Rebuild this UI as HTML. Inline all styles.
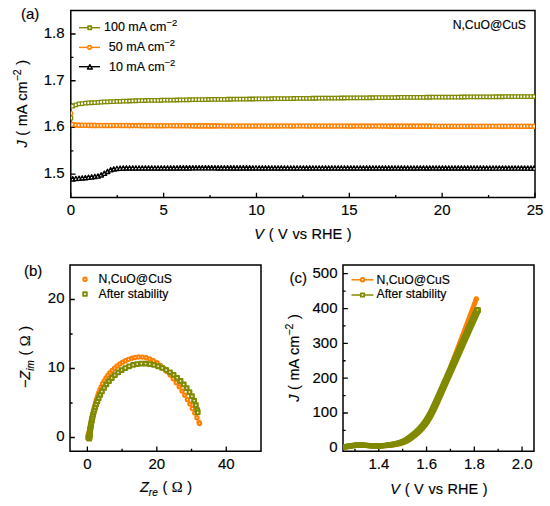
<!DOCTYPE html>
<html><head><meta charset="utf-8"><style>
html,body{margin:0;padding:0;background:#fff;width:550px;height:506px;overflow:hidden}
svg{display:block}
text{font-family:"Liberation Sans",sans-serif;fill:#000;stroke:#000;stroke-width:0.15px}
</style></head><body>
<svg width="550" height="506" viewBox="0 0 550 506">
<rect width="550" height="506" fill="#fff"/>
<clipPath id="ca"><rect x="70.8" y="10.6" width="464.2" height="187.0"/></clipPath>
<clipPath id="cb"><rect x="70" y="265" width="191" height="186.3"/></clipPath>
<clipPath id="cc"><rect x="343" y="265" width="191" height="186.3"/></clipPath>
<path d="M70.8 10.6H535.0V197.6H70.8Z" fill="none" stroke="#000" stroke-width="1.5"/>
<path d="M70.8 197.6v-4.8M163.64 197.6v-4.8M256.48 197.6v-4.8M349.32 197.6v-4.8M442.16 197.6v-4.8M535 197.6v-4.8M117.22 197.6v-2.6M210.06 197.6v-2.6M302.9 197.6v-2.6M395.74 197.6v-2.6M488.58 197.6v-2.6M70.8 174.2h4.8M70.8 127.47h4.8M70.8 80.74h4.8M70.8 34.01h4.8M70.8 150.83h2.6M70.8 104.11h2.6M70.8 57.37h2.6" stroke="#000" stroke-width="1.3" fill="none"/>
<g clip-path="url(#ca)"><rect x="69" y="116.2" width="3.6" height="3.6" fill="#fff" stroke="#808a00" stroke-width="1.3" stroke-linejoin="round"/><circle cx="70.8" cy="113.3" r="1.9" fill="#fff" stroke="#ff8000" stroke-width="1.4" stroke-linejoin="round"/><polyline points="72.7,106.2 75.86,104.82 79.02,103.9 82.18,103.55 85.34,103.16 88.5,102.93 91.66,102.73 94.82,102.53 97.98,102.34 101.14,102.14 104.3,101.95 107.46,101.81 110.62,101.69 113.78,101.58 116.94,101.46 120.1,101.34 123.26,101.22 126.42,101.11 129.58,100.99 132.74,100.87 135.9,100.75 139.06,100.64 142.22,100.56 145.38,100.51 148.54,100.46 151.7,100.41 154.86,100.35 158.02,100.3 161.18,100.25 164.34,100.19 167.5,100.14 170.66,100.09 173.82,100.04 176.98,99.98 180.14,99.93 183.3,99.88 186.46,99.83 189.62,99.77 192.78,99.72 195.94,99.67 199.1,99.61 202.26,99.57 205.42,99.54 208.58,99.5 211.74,99.46 214.9,99.42 218.06,99.39 221.22,99.35 224.38,99.31 227.54,99.27 230.7,99.24 233.86,99.2 237.02,99.16 240.18,99.13 243.34,99.09 246.5,99.05 249.66,99.01 252.82,98.98 255.98,98.94 259.14,98.9 262.3,98.86 265.46,98.83 268.62,98.79 271.78,98.75 274.94,98.71 278.1,98.68 281.26,98.64 284.42,98.6 287.58,98.56 290.74,98.53 293.9,98.49 297.06,98.45 300.22,98.42 303.38,98.38 306.54,98.34 309.7,98.3 312.86,98.27 316.02,98.25 319.18,98.22 322.34,98.19 325.5,98.16 328.66,98.13 331.82,98.1 334.98,98.07 338.14,98.04 341.3,98.02 344.46,97.99 347.62,97.96 350.78,97.93 353.94,97.9 357.1,97.87 360.26,97.84 363.42,97.81 366.58,97.79 369.74,97.76 372.9,97.73 376.06,97.7 379.22,97.67 382.38,97.64 385.54,97.61 388.7,97.58 391.86,97.56 395.02,97.53 398.18,97.5 401.34,97.47 404.5,97.44 407.66,97.41 410.82,97.38 413.98,97.35 417.14,97.33 420.3,97.3 423.46,97.28 426.62,97.25 429.78,97.23 432.94,97.21 436.1,97.19 439.26,97.17 442.42,97.14 445.58,97.12 448.74,97.1 451.9,97.08 455.06,97.06 458.22,97.03 461.38,97.01 464.54,96.99 467.7,96.97 470.86,96.95 474.02,96.92 477.18,96.9 480.34,96.88 483.5,96.86 486.66,96.84 489.82,96.81 492.98,96.79 496.14,96.77 499.3,96.75 502.46,96.73 505.62,96.7 508.78,96.68 511.94,96.66 515.1,96.64 518.26,96.62 521.42,96.59 524.58,96.57 527.74,96.55 530.9,96.53 534.06,96.51" fill="none" stroke="#808a00" stroke-width="1"/><rect x="70.95" y="104.45" width="3.5" height="3.5" fill="#fff" stroke="#808a00" stroke-width="1.3" stroke-linejoin="round"/><rect x="74.11" y="103.07" width="3.5" height="3.5" fill="#fff" stroke="#808a00" stroke-width="1.3" stroke-linejoin="round"/><rect x="77.27" y="102.15" width="3.5" height="3.5" fill="#fff" stroke="#808a00" stroke-width="1.3" stroke-linejoin="round"/><rect x="80.43" y="101.8" width="3.5" height="3.5" fill="#fff" stroke="#808a00" stroke-width="1.3" stroke-linejoin="round"/><rect x="83.59" y="101.41" width="3.5" height="3.5" fill="#fff" stroke="#808a00" stroke-width="1.3" stroke-linejoin="round"/><rect x="86.75" y="101.18" width="3.5" height="3.5" fill="#fff" stroke="#808a00" stroke-width="1.3" stroke-linejoin="round"/><rect x="89.91" y="100.98" width="3.5" height="3.5" fill="#fff" stroke="#808a00" stroke-width="1.3" stroke-linejoin="round"/><rect x="93.07" y="100.78" width="3.5" height="3.5" fill="#fff" stroke="#808a00" stroke-width="1.3" stroke-linejoin="round"/><rect x="96.23" y="100.59" width="3.5" height="3.5" fill="#fff" stroke="#808a00" stroke-width="1.3" stroke-linejoin="round"/><rect x="99.39" y="100.39" width="3.5" height="3.5" fill="#fff" stroke="#808a00" stroke-width="1.3" stroke-linejoin="round"/><rect x="102.55" y="100.2" width="3.5" height="3.5" fill="#fff" stroke="#808a00" stroke-width="1.3" stroke-linejoin="round"/><rect x="105.71" y="100.06" width="3.5" height="3.5" fill="#fff" stroke="#808a00" stroke-width="1.3" stroke-linejoin="round"/><rect x="108.87" y="99.94" width="3.5" height="3.5" fill="#fff" stroke="#808a00" stroke-width="1.3" stroke-linejoin="round"/><rect x="112.03" y="99.83" width="3.5" height="3.5" fill="#fff" stroke="#808a00" stroke-width="1.3" stroke-linejoin="round"/><rect x="115.19" y="99.71" width="3.5" height="3.5" fill="#fff" stroke="#808a00" stroke-width="1.3" stroke-linejoin="round"/><rect x="118.35" y="99.59" width="3.5" height="3.5" fill="#fff" stroke="#808a00" stroke-width="1.3" stroke-linejoin="round"/><rect x="121.51" y="99.47" width="3.5" height="3.5" fill="#fff" stroke="#808a00" stroke-width="1.3" stroke-linejoin="round"/><rect x="124.67" y="99.36" width="3.5" height="3.5" fill="#fff" stroke="#808a00" stroke-width="1.3" stroke-linejoin="round"/><rect x="127.83" y="99.24" width="3.5" height="3.5" fill="#fff" stroke="#808a00" stroke-width="1.3" stroke-linejoin="round"/><rect x="130.99" y="99.12" width="3.5" height="3.5" fill="#fff" stroke="#808a00" stroke-width="1.3" stroke-linejoin="round"/><rect x="134.15" y="99" width="3.5" height="3.5" fill="#fff" stroke="#808a00" stroke-width="1.3" stroke-linejoin="round"/><rect x="137.31" y="98.89" width="3.5" height="3.5" fill="#fff" stroke="#808a00" stroke-width="1.3" stroke-linejoin="round"/><rect x="140.47" y="98.81" width="3.5" height="3.5" fill="#fff" stroke="#808a00" stroke-width="1.3" stroke-linejoin="round"/><rect x="143.63" y="98.76" width="3.5" height="3.5" fill="#fff" stroke="#808a00" stroke-width="1.3" stroke-linejoin="round"/><rect x="146.79" y="98.71" width="3.5" height="3.5" fill="#fff" stroke="#808a00" stroke-width="1.3" stroke-linejoin="round"/><rect x="149.95" y="98.66" width="3.5" height="3.5" fill="#fff" stroke="#808a00" stroke-width="1.3" stroke-linejoin="round"/><rect x="153.11" y="98.6" width="3.5" height="3.5" fill="#fff" stroke="#808a00" stroke-width="1.3" stroke-linejoin="round"/><rect x="156.27" y="98.55" width="3.5" height="3.5" fill="#fff" stroke="#808a00" stroke-width="1.3" stroke-linejoin="round"/><rect x="159.43" y="98.5" width="3.5" height="3.5" fill="#fff" stroke="#808a00" stroke-width="1.3" stroke-linejoin="round"/><rect x="162.59" y="98.44" width="3.5" height="3.5" fill="#fff" stroke="#808a00" stroke-width="1.3" stroke-linejoin="round"/><rect x="165.75" y="98.39" width="3.5" height="3.5" fill="#fff" stroke="#808a00" stroke-width="1.3" stroke-linejoin="round"/><rect x="168.91" y="98.34" width="3.5" height="3.5" fill="#fff" stroke="#808a00" stroke-width="1.3" stroke-linejoin="round"/><rect x="172.07" y="98.29" width="3.5" height="3.5" fill="#fff" stroke="#808a00" stroke-width="1.3" stroke-linejoin="round"/><rect x="175.23" y="98.23" width="3.5" height="3.5" fill="#fff" stroke="#808a00" stroke-width="1.3" stroke-linejoin="round"/><rect x="178.39" y="98.18" width="3.5" height="3.5" fill="#fff" stroke="#808a00" stroke-width="1.3" stroke-linejoin="round"/><rect x="181.55" y="98.13" width="3.5" height="3.5" fill="#fff" stroke="#808a00" stroke-width="1.3" stroke-linejoin="round"/><rect x="184.71" y="98.08" width="3.5" height="3.5" fill="#fff" stroke="#808a00" stroke-width="1.3" stroke-linejoin="round"/><rect x="187.87" y="98.02" width="3.5" height="3.5" fill="#fff" stroke="#808a00" stroke-width="1.3" stroke-linejoin="round"/><rect x="191.03" y="97.97" width="3.5" height="3.5" fill="#fff" stroke="#808a00" stroke-width="1.3" stroke-linejoin="round"/><rect x="194.19" y="97.92" width="3.5" height="3.5" fill="#fff" stroke="#808a00" stroke-width="1.3" stroke-linejoin="round"/><rect x="197.35" y="97.86" width="3.5" height="3.5" fill="#fff" stroke="#808a00" stroke-width="1.3" stroke-linejoin="round"/><rect x="200.51" y="97.82" width="3.5" height="3.5" fill="#fff" stroke="#808a00" stroke-width="1.3" stroke-linejoin="round"/><rect x="203.67" y="97.79" width="3.5" height="3.5" fill="#fff" stroke="#808a00" stroke-width="1.3" stroke-linejoin="round"/><rect x="206.83" y="97.75" width="3.5" height="3.5" fill="#fff" stroke="#808a00" stroke-width="1.3" stroke-linejoin="round"/><rect x="209.99" y="97.71" width="3.5" height="3.5" fill="#fff" stroke="#808a00" stroke-width="1.3" stroke-linejoin="round"/><rect x="213.15" y="97.67" width="3.5" height="3.5" fill="#fff" stroke="#808a00" stroke-width="1.3" stroke-linejoin="round"/><rect x="216.31" y="97.64" width="3.5" height="3.5" fill="#fff" stroke="#808a00" stroke-width="1.3" stroke-linejoin="round"/><rect x="219.47" y="97.6" width="3.5" height="3.5" fill="#fff" stroke="#808a00" stroke-width="1.3" stroke-linejoin="round"/><rect x="222.63" y="97.56" width="3.5" height="3.5" fill="#fff" stroke="#808a00" stroke-width="1.3" stroke-linejoin="round"/><rect x="225.79" y="97.52" width="3.5" height="3.5" fill="#fff" stroke="#808a00" stroke-width="1.3" stroke-linejoin="round"/><rect x="228.95" y="97.49" width="3.5" height="3.5" fill="#fff" stroke="#808a00" stroke-width="1.3" stroke-linejoin="round"/><rect x="232.11" y="97.45" width="3.5" height="3.5" fill="#fff" stroke="#808a00" stroke-width="1.3" stroke-linejoin="round"/><rect x="235.27" y="97.41" width="3.5" height="3.5" fill="#fff" stroke="#808a00" stroke-width="1.3" stroke-linejoin="round"/><rect x="238.43" y="97.38" width="3.5" height="3.5" fill="#fff" stroke="#808a00" stroke-width="1.3" stroke-linejoin="round"/><rect x="241.59" y="97.34" width="3.5" height="3.5" fill="#fff" stroke="#808a00" stroke-width="1.3" stroke-linejoin="round"/><rect x="244.75" y="97.3" width="3.5" height="3.5" fill="#fff" stroke="#808a00" stroke-width="1.3" stroke-linejoin="round"/><rect x="247.91" y="97.26" width="3.5" height="3.5" fill="#fff" stroke="#808a00" stroke-width="1.3" stroke-linejoin="round"/><rect x="251.07" y="97.23" width="3.5" height="3.5" fill="#fff" stroke="#808a00" stroke-width="1.3" stroke-linejoin="round"/><rect x="254.23" y="97.19" width="3.5" height="3.5" fill="#fff" stroke="#808a00" stroke-width="1.3" stroke-linejoin="round"/><rect x="257.39" y="97.15" width="3.5" height="3.5" fill="#fff" stroke="#808a00" stroke-width="1.3" stroke-linejoin="round"/><rect x="260.55" y="97.11" width="3.5" height="3.5" fill="#fff" stroke="#808a00" stroke-width="1.3" stroke-linejoin="round"/><rect x="263.71" y="97.08" width="3.5" height="3.5" fill="#fff" stroke="#808a00" stroke-width="1.3" stroke-linejoin="round"/><rect x="266.87" y="97.04" width="3.5" height="3.5" fill="#fff" stroke="#808a00" stroke-width="1.3" stroke-linejoin="round"/><rect x="270.03" y="97" width="3.5" height="3.5" fill="#fff" stroke="#808a00" stroke-width="1.3" stroke-linejoin="round"/><rect x="273.19" y="96.96" width="3.5" height="3.5" fill="#fff" stroke="#808a00" stroke-width="1.3" stroke-linejoin="round"/><rect x="276.35" y="96.93" width="3.5" height="3.5" fill="#fff" stroke="#808a00" stroke-width="1.3" stroke-linejoin="round"/><rect x="279.51" y="96.89" width="3.5" height="3.5" fill="#fff" stroke="#808a00" stroke-width="1.3" stroke-linejoin="round"/><rect x="282.67" y="96.85" width="3.5" height="3.5" fill="#fff" stroke="#808a00" stroke-width="1.3" stroke-linejoin="round"/><rect x="285.83" y="96.81" width="3.5" height="3.5" fill="#fff" stroke="#808a00" stroke-width="1.3" stroke-linejoin="round"/><rect x="288.99" y="96.78" width="3.5" height="3.5" fill="#fff" stroke="#808a00" stroke-width="1.3" stroke-linejoin="round"/><rect x="292.15" y="96.74" width="3.5" height="3.5" fill="#fff" stroke="#808a00" stroke-width="1.3" stroke-linejoin="round"/><rect x="295.31" y="96.7" width="3.5" height="3.5" fill="#fff" stroke="#808a00" stroke-width="1.3" stroke-linejoin="round"/><rect x="298.47" y="96.67" width="3.5" height="3.5" fill="#fff" stroke="#808a00" stroke-width="1.3" stroke-linejoin="round"/><rect x="301.63" y="96.63" width="3.5" height="3.5" fill="#fff" stroke="#808a00" stroke-width="1.3" stroke-linejoin="round"/><rect x="304.79" y="96.59" width="3.5" height="3.5" fill="#fff" stroke="#808a00" stroke-width="1.3" stroke-linejoin="round"/><rect x="307.95" y="96.55" width="3.5" height="3.5" fill="#fff" stroke="#808a00" stroke-width="1.3" stroke-linejoin="round"/><rect x="311.11" y="96.52" width="3.5" height="3.5" fill="#fff" stroke="#808a00" stroke-width="1.3" stroke-linejoin="round"/><rect x="314.27" y="96.5" width="3.5" height="3.5" fill="#fff" stroke="#808a00" stroke-width="1.3" stroke-linejoin="round"/><rect x="317.43" y="96.47" width="3.5" height="3.5" fill="#fff" stroke="#808a00" stroke-width="1.3" stroke-linejoin="round"/><rect x="320.59" y="96.44" width="3.5" height="3.5" fill="#fff" stroke="#808a00" stroke-width="1.3" stroke-linejoin="round"/><rect x="323.75" y="96.41" width="3.5" height="3.5" fill="#fff" stroke="#808a00" stroke-width="1.3" stroke-linejoin="round"/><rect x="326.91" y="96.38" width="3.5" height="3.5" fill="#fff" stroke="#808a00" stroke-width="1.3" stroke-linejoin="round"/><rect x="330.07" y="96.35" width="3.5" height="3.5" fill="#fff" stroke="#808a00" stroke-width="1.3" stroke-linejoin="round"/><rect x="333.23" y="96.32" width="3.5" height="3.5" fill="#fff" stroke="#808a00" stroke-width="1.3" stroke-linejoin="round"/><rect x="336.39" y="96.29" width="3.5" height="3.5" fill="#fff" stroke="#808a00" stroke-width="1.3" stroke-linejoin="round"/><rect x="339.55" y="96.27" width="3.5" height="3.5" fill="#fff" stroke="#808a00" stroke-width="1.3" stroke-linejoin="round"/><rect x="342.71" y="96.24" width="3.5" height="3.5" fill="#fff" stroke="#808a00" stroke-width="1.3" stroke-linejoin="round"/><rect x="345.87" y="96.21" width="3.5" height="3.5" fill="#fff" stroke="#808a00" stroke-width="1.3" stroke-linejoin="round"/><rect x="349.03" y="96.18" width="3.5" height="3.5" fill="#fff" stroke="#808a00" stroke-width="1.3" stroke-linejoin="round"/><rect x="352.19" y="96.15" width="3.5" height="3.5" fill="#fff" stroke="#808a00" stroke-width="1.3" stroke-linejoin="round"/><rect x="355.35" y="96.12" width="3.5" height="3.5" fill="#fff" stroke="#808a00" stroke-width="1.3" stroke-linejoin="round"/><rect x="358.51" y="96.09" width="3.5" height="3.5" fill="#fff" stroke="#808a00" stroke-width="1.3" stroke-linejoin="round"/><rect x="361.67" y="96.06" width="3.5" height="3.5" fill="#fff" stroke="#808a00" stroke-width="1.3" stroke-linejoin="round"/><rect x="364.83" y="96.04" width="3.5" height="3.5" fill="#fff" stroke="#808a00" stroke-width="1.3" stroke-linejoin="round"/><rect x="367.99" y="96.01" width="3.5" height="3.5" fill="#fff" stroke="#808a00" stroke-width="1.3" stroke-linejoin="round"/><rect x="371.15" y="95.98" width="3.5" height="3.5" fill="#fff" stroke="#808a00" stroke-width="1.3" stroke-linejoin="round"/><rect x="374.31" y="95.95" width="3.5" height="3.5" fill="#fff" stroke="#808a00" stroke-width="1.3" stroke-linejoin="round"/><rect x="377.47" y="95.92" width="3.5" height="3.5" fill="#fff" stroke="#808a00" stroke-width="1.3" stroke-linejoin="round"/><rect x="380.63" y="95.89" width="3.5" height="3.5" fill="#fff" stroke="#808a00" stroke-width="1.3" stroke-linejoin="round"/><rect x="383.79" y="95.86" width="3.5" height="3.5" fill="#fff" stroke="#808a00" stroke-width="1.3" stroke-linejoin="round"/><rect x="386.95" y="95.83" width="3.5" height="3.5" fill="#fff" stroke="#808a00" stroke-width="1.3" stroke-linejoin="round"/><rect x="390.11" y="95.81" width="3.5" height="3.5" fill="#fff" stroke="#808a00" stroke-width="1.3" stroke-linejoin="round"/><rect x="393.27" y="95.78" width="3.5" height="3.5" fill="#fff" stroke="#808a00" stroke-width="1.3" stroke-linejoin="round"/><rect x="396.43" y="95.75" width="3.5" height="3.5" fill="#fff" stroke="#808a00" stroke-width="1.3" stroke-linejoin="round"/><rect x="399.59" y="95.72" width="3.5" height="3.5" fill="#fff" stroke="#808a00" stroke-width="1.3" stroke-linejoin="round"/><rect x="402.75" y="95.69" width="3.5" height="3.5" fill="#fff" stroke="#808a00" stroke-width="1.3" stroke-linejoin="round"/><rect x="405.91" y="95.66" width="3.5" height="3.5" fill="#fff" stroke="#808a00" stroke-width="1.3" stroke-linejoin="round"/><rect x="409.07" y="95.63" width="3.5" height="3.5" fill="#fff" stroke="#808a00" stroke-width="1.3" stroke-linejoin="round"/><rect x="412.23" y="95.6" width="3.5" height="3.5" fill="#fff" stroke="#808a00" stroke-width="1.3" stroke-linejoin="round"/><rect x="415.39" y="95.58" width="3.5" height="3.5" fill="#fff" stroke="#808a00" stroke-width="1.3" stroke-linejoin="round"/><rect x="418.55" y="95.55" width="3.5" height="3.5" fill="#fff" stroke="#808a00" stroke-width="1.3" stroke-linejoin="round"/><rect x="421.71" y="95.53" width="3.5" height="3.5" fill="#fff" stroke="#808a00" stroke-width="1.3" stroke-linejoin="round"/><rect x="424.87" y="95.5" width="3.5" height="3.5" fill="#fff" stroke="#808a00" stroke-width="1.3" stroke-linejoin="round"/><rect x="428.03" y="95.48" width="3.5" height="3.5" fill="#fff" stroke="#808a00" stroke-width="1.3" stroke-linejoin="round"/><rect x="431.19" y="95.46" width="3.5" height="3.5" fill="#fff" stroke="#808a00" stroke-width="1.3" stroke-linejoin="round"/><rect x="434.35" y="95.44" width="3.5" height="3.5" fill="#fff" stroke="#808a00" stroke-width="1.3" stroke-linejoin="round"/><rect x="437.51" y="95.42" width="3.5" height="3.5" fill="#fff" stroke="#808a00" stroke-width="1.3" stroke-linejoin="round"/><rect x="440.67" y="95.39" width="3.5" height="3.5" fill="#fff" stroke="#808a00" stroke-width="1.3" stroke-linejoin="round"/><rect x="443.83" y="95.37" width="3.5" height="3.5" fill="#fff" stroke="#808a00" stroke-width="1.3" stroke-linejoin="round"/><rect x="446.99" y="95.35" width="3.5" height="3.5" fill="#fff" stroke="#808a00" stroke-width="1.3" stroke-linejoin="round"/><rect x="450.15" y="95.33" width="3.5" height="3.5" fill="#fff" stroke="#808a00" stroke-width="1.3" stroke-linejoin="round"/><rect x="453.31" y="95.31" width="3.5" height="3.5" fill="#fff" stroke="#808a00" stroke-width="1.3" stroke-linejoin="round"/><rect x="456.47" y="95.28" width="3.5" height="3.5" fill="#fff" stroke="#808a00" stroke-width="1.3" stroke-linejoin="round"/><rect x="459.63" y="95.26" width="3.5" height="3.5" fill="#fff" stroke="#808a00" stroke-width="1.3" stroke-linejoin="round"/><rect x="462.79" y="95.24" width="3.5" height="3.5" fill="#fff" stroke="#808a00" stroke-width="1.3" stroke-linejoin="round"/><rect x="465.95" y="95.22" width="3.5" height="3.5" fill="#fff" stroke="#808a00" stroke-width="1.3" stroke-linejoin="round"/><rect x="469.11" y="95.2" width="3.5" height="3.5" fill="#fff" stroke="#808a00" stroke-width="1.3" stroke-linejoin="round"/><rect x="472.27" y="95.17" width="3.5" height="3.5" fill="#fff" stroke="#808a00" stroke-width="1.3" stroke-linejoin="round"/><rect x="475.43" y="95.15" width="3.5" height="3.5" fill="#fff" stroke="#808a00" stroke-width="1.3" stroke-linejoin="round"/><rect x="478.59" y="95.13" width="3.5" height="3.5" fill="#fff" stroke="#808a00" stroke-width="1.3" stroke-linejoin="round"/><rect x="481.75" y="95.11" width="3.5" height="3.5" fill="#fff" stroke="#808a00" stroke-width="1.3" stroke-linejoin="round"/><rect x="484.91" y="95.09" width="3.5" height="3.5" fill="#fff" stroke="#808a00" stroke-width="1.3" stroke-linejoin="round"/><rect x="488.07" y="95.06" width="3.5" height="3.5" fill="#fff" stroke="#808a00" stroke-width="1.3" stroke-linejoin="round"/><rect x="491.23" y="95.04" width="3.5" height="3.5" fill="#fff" stroke="#808a00" stroke-width="1.3" stroke-linejoin="round"/><rect x="494.39" y="95.02" width="3.5" height="3.5" fill="#fff" stroke="#808a00" stroke-width="1.3" stroke-linejoin="round"/><rect x="497.55" y="95" width="3.5" height="3.5" fill="#fff" stroke="#808a00" stroke-width="1.3" stroke-linejoin="round"/><rect x="500.71" y="94.98" width="3.5" height="3.5" fill="#fff" stroke="#808a00" stroke-width="1.3" stroke-linejoin="round"/><rect x="503.87" y="94.95" width="3.5" height="3.5" fill="#fff" stroke="#808a00" stroke-width="1.3" stroke-linejoin="round"/><rect x="507.03" y="94.93" width="3.5" height="3.5" fill="#fff" stroke="#808a00" stroke-width="1.3" stroke-linejoin="round"/><rect x="510.19" y="94.91" width="3.5" height="3.5" fill="#fff" stroke="#808a00" stroke-width="1.3" stroke-linejoin="round"/><rect x="513.35" y="94.89" width="3.5" height="3.5" fill="#fff" stroke="#808a00" stroke-width="1.3" stroke-linejoin="round"/><rect x="516.51" y="94.87" width="3.5" height="3.5" fill="#fff" stroke="#808a00" stroke-width="1.3" stroke-linejoin="round"/><rect x="519.67" y="94.84" width="3.5" height="3.5" fill="#fff" stroke="#808a00" stroke-width="1.3" stroke-linejoin="round"/><rect x="522.83" y="94.82" width="3.5" height="3.5" fill="#fff" stroke="#808a00" stroke-width="1.3" stroke-linejoin="round"/><rect x="525.99" y="94.8" width="3.5" height="3.5" fill="#fff" stroke="#808a00" stroke-width="1.3" stroke-linejoin="round"/><rect x="529.15" y="94.78" width="3.5" height="3.5" fill="#fff" stroke="#808a00" stroke-width="1.3" stroke-linejoin="round"/><rect x="532.31" y="94.76" width="3.5" height="3.5" fill="#fff" stroke="#808a00" stroke-width="1.3" stroke-linejoin="round"/><circle cx="72.7" cy="124.5" r="2" fill="#fff" stroke="#ff8000" stroke-width="1.6" stroke-linejoin="round"/><circle cx="75.86" cy="125.09" r="2" fill="#fff" stroke="#ff8000" stroke-width="1.6" stroke-linejoin="round"/><circle cx="79.02" cy="125.17" r="2" fill="#fff" stroke="#ff8000" stroke-width="1.6" stroke-linejoin="round"/><circle cx="82.18" cy="125.23" r="2" fill="#fff" stroke="#ff8000" stroke-width="1.6" stroke-linejoin="round"/><circle cx="85.34" cy="125.3" r="2" fill="#fff" stroke="#ff8000" stroke-width="1.6" stroke-linejoin="round"/><circle cx="88.5" cy="125.37" r="2" fill="#fff" stroke="#ff8000" stroke-width="1.6" stroke-linejoin="round"/><circle cx="91.66" cy="125.41" r="2" fill="#fff" stroke="#ff8000" stroke-width="1.6" stroke-linejoin="round"/><circle cx="94.82" cy="125.42" r="2" fill="#fff" stroke="#ff8000" stroke-width="1.6" stroke-linejoin="round"/><circle cx="97.98" cy="125.44" r="2" fill="#fff" stroke="#ff8000" stroke-width="1.6" stroke-linejoin="round"/><circle cx="101.14" cy="125.45" r="2" fill="#fff" stroke="#ff8000" stroke-width="1.6" stroke-linejoin="round"/><circle cx="104.3" cy="125.46" r="2" fill="#fff" stroke="#ff8000" stroke-width="1.6" stroke-linejoin="round"/><circle cx="107.46" cy="125.48" r="2" fill="#fff" stroke="#ff8000" stroke-width="1.6" stroke-linejoin="round"/><circle cx="110.62" cy="125.49" r="2" fill="#fff" stroke="#ff8000" stroke-width="1.6" stroke-linejoin="round"/><circle cx="113.78" cy="125.51" r="2" fill="#fff" stroke="#ff8000" stroke-width="1.6" stroke-linejoin="round"/><circle cx="116.94" cy="125.52" r="2" fill="#fff" stroke="#ff8000" stroke-width="1.6" stroke-linejoin="round"/><circle cx="120.1" cy="125.54" r="2" fill="#fff" stroke="#ff8000" stroke-width="1.6" stroke-linejoin="round"/><circle cx="123.26" cy="125.55" r="2" fill="#fff" stroke="#ff8000" stroke-width="1.6" stroke-linejoin="round"/><circle cx="126.42" cy="125.57" r="2" fill="#fff" stroke="#ff8000" stroke-width="1.6" stroke-linejoin="round"/><circle cx="129.58" cy="125.58" r="2" fill="#fff" stroke="#ff8000" stroke-width="1.6" stroke-linejoin="round"/><circle cx="132.74" cy="125.59" r="2" fill="#fff" stroke="#ff8000" stroke-width="1.6" stroke-linejoin="round"/><circle cx="135.9" cy="125.61" r="2" fill="#fff" stroke="#ff8000" stroke-width="1.6" stroke-linejoin="round"/><circle cx="139.06" cy="125.62" r="2" fill="#fff" stroke="#ff8000" stroke-width="1.6" stroke-linejoin="round"/><circle cx="142.22" cy="125.64" r="2" fill="#fff" stroke="#ff8000" stroke-width="1.6" stroke-linejoin="round"/><circle cx="145.38" cy="125.65" r="2" fill="#fff" stroke="#ff8000" stroke-width="1.6" stroke-linejoin="round"/><circle cx="148.54" cy="125.67" r="2" fill="#fff" stroke="#ff8000" stroke-width="1.6" stroke-linejoin="round"/><circle cx="151.7" cy="125.68" r="2" fill="#fff" stroke="#ff8000" stroke-width="1.6" stroke-linejoin="round"/><circle cx="154.86" cy="125.69" r="2" fill="#fff" stroke="#ff8000" stroke-width="1.6" stroke-linejoin="round"/><circle cx="158.02" cy="125.71" r="2" fill="#fff" stroke="#ff8000" stroke-width="1.6" stroke-linejoin="round"/><circle cx="161.18" cy="125.72" r="2" fill="#fff" stroke="#ff8000" stroke-width="1.6" stroke-linejoin="round"/><circle cx="164.34" cy="125.74" r="2" fill="#fff" stroke="#ff8000" stroke-width="1.6" stroke-linejoin="round"/><circle cx="167.5" cy="125.75" r="2" fill="#fff" stroke="#ff8000" stroke-width="1.6" stroke-linejoin="round"/><circle cx="170.66" cy="125.77" r="2" fill="#fff" stroke="#ff8000" stroke-width="1.6" stroke-linejoin="round"/><circle cx="173.82" cy="125.78" r="2" fill="#fff" stroke="#ff8000" stroke-width="1.6" stroke-linejoin="round"/><circle cx="176.98" cy="125.8" r="2" fill="#fff" stroke="#ff8000" stroke-width="1.6" stroke-linejoin="round"/><circle cx="180.14" cy="125.81" r="2" fill="#fff" stroke="#ff8000" stroke-width="1.6" stroke-linejoin="round"/><circle cx="183.3" cy="125.82" r="2" fill="#fff" stroke="#ff8000" stroke-width="1.6" stroke-linejoin="round"/><circle cx="186.46" cy="125.84" r="2" fill="#fff" stroke="#ff8000" stroke-width="1.6" stroke-linejoin="round"/><circle cx="189.62" cy="125.85" r="2" fill="#fff" stroke="#ff8000" stroke-width="1.6" stroke-linejoin="round"/><circle cx="192.78" cy="125.87" r="2" fill="#fff" stroke="#ff8000" stroke-width="1.6" stroke-linejoin="round"/><circle cx="195.94" cy="125.88" r="2" fill="#fff" stroke="#ff8000" stroke-width="1.6" stroke-linejoin="round"/><circle cx="199.1" cy="125.9" r="2" fill="#fff" stroke="#ff8000" stroke-width="1.6" stroke-linejoin="round"/><circle cx="202.26" cy="125.9" r="2" fill="#fff" stroke="#ff8000" stroke-width="1.6" stroke-linejoin="round"/><circle cx="205.42" cy="125.91" r="2" fill="#fff" stroke="#ff8000" stroke-width="1.6" stroke-linejoin="round"/><circle cx="208.58" cy="125.91" r="2" fill="#fff" stroke="#ff8000" stroke-width="1.6" stroke-linejoin="round"/><circle cx="211.74" cy="125.91" r="2" fill="#fff" stroke="#ff8000" stroke-width="1.6" stroke-linejoin="round"/><circle cx="214.9" cy="125.92" r="2" fill="#fff" stroke="#ff8000" stroke-width="1.6" stroke-linejoin="round"/><circle cx="218.06" cy="125.92" r="2" fill="#fff" stroke="#ff8000" stroke-width="1.6" stroke-linejoin="round"/><circle cx="221.22" cy="125.93" r="2" fill="#fff" stroke="#ff8000" stroke-width="1.6" stroke-linejoin="round"/><circle cx="224.38" cy="125.93" r="2" fill="#fff" stroke="#ff8000" stroke-width="1.6" stroke-linejoin="round"/><circle cx="227.54" cy="125.93" r="2" fill="#fff" stroke="#ff8000" stroke-width="1.6" stroke-linejoin="round"/><circle cx="230.7" cy="125.94" r="2" fill="#fff" stroke="#ff8000" stroke-width="1.6" stroke-linejoin="round"/><circle cx="233.86" cy="125.94" r="2" fill="#fff" stroke="#ff8000" stroke-width="1.6" stroke-linejoin="round"/><circle cx="237.02" cy="125.94" r="2" fill="#fff" stroke="#ff8000" stroke-width="1.6" stroke-linejoin="round"/><circle cx="240.18" cy="125.95" r="2" fill="#fff" stroke="#ff8000" stroke-width="1.6" stroke-linejoin="round"/><circle cx="243.34" cy="125.95" r="2" fill="#fff" stroke="#ff8000" stroke-width="1.6" stroke-linejoin="round"/><circle cx="246.5" cy="125.96" r="2" fill="#fff" stroke="#ff8000" stroke-width="1.6" stroke-linejoin="round"/><circle cx="249.66" cy="125.96" r="2" fill="#fff" stroke="#ff8000" stroke-width="1.6" stroke-linejoin="round"/><circle cx="252.82" cy="125.96" r="2" fill="#fff" stroke="#ff8000" stroke-width="1.6" stroke-linejoin="round"/><circle cx="255.98" cy="125.97" r="2" fill="#fff" stroke="#ff8000" stroke-width="1.6" stroke-linejoin="round"/><circle cx="259.14" cy="125.97" r="2" fill="#fff" stroke="#ff8000" stroke-width="1.6" stroke-linejoin="round"/><circle cx="262.3" cy="125.97" r="2" fill="#fff" stroke="#ff8000" stroke-width="1.6" stroke-linejoin="round"/><circle cx="265.46" cy="125.98" r="2" fill="#fff" stroke="#ff8000" stroke-width="1.6" stroke-linejoin="round"/><circle cx="268.62" cy="125.98" r="2" fill="#fff" stroke="#ff8000" stroke-width="1.6" stroke-linejoin="round"/><circle cx="271.78" cy="125.99" r="2" fill="#fff" stroke="#ff8000" stroke-width="1.6" stroke-linejoin="round"/><circle cx="274.94" cy="125.99" r="2" fill="#fff" stroke="#ff8000" stroke-width="1.6" stroke-linejoin="round"/><circle cx="278.1" cy="125.99" r="2" fill="#fff" stroke="#ff8000" stroke-width="1.6" stroke-linejoin="round"/><circle cx="281.26" cy="126" r="2" fill="#fff" stroke="#ff8000" stroke-width="1.6" stroke-linejoin="round"/><circle cx="284.42" cy="126" r="2" fill="#fff" stroke="#ff8000" stroke-width="1.6" stroke-linejoin="round"/><circle cx="287.58" cy="126" r="2" fill="#fff" stroke="#ff8000" stroke-width="1.6" stroke-linejoin="round"/><circle cx="290.74" cy="126.01" r="2" fill="#fff" stroke="#ff8000" stroke-width="1.6" stroke-linejoin="round"/><circle cx="293.9" cy="126.01" r="2" fill="#fff" stroke="#ff8000" stroke-width="1.6" stroke-linejoin="round"/><circle cx="297.06" cy="126.02" r="2" fill="#fff" stroke="#ff8000" stroke-width="1.6" stroke-linejoin="round"/><circle cx="300.22" cy="126.02" r="2" fill="#fff" stroke="#ff8000" stroke-width="1.6" stroke-linejoin="round"/><circle cx="303.38" cy="126.02" r="2" fill="#fff" stroke="#ff8000" stroke-width="1.6" stroke-linejoin="round"/><circle cx="306.54" cy="126.03" r="2" fill="#fff" stroke="#ff8000" stroke-width="1.6" stroke-linejoin="round"/><circle cx="309.7" cy="126.03" r="2" fill="#fff" stroke="#ff8000" stroke-width="1.6" stroke-linejoin="round"/><circle cx="312.86" cy="126.03" r="2" fill="#fff" stroke="#ff8000" stroke-width="1.6" stroke-linejoin="round"/><circle cx="316.02" cy="126.04" r="2" fill="#fff" stroke="#ff8000" stroke-width="1.6" stroke-linejoin="round"/><circle cx="319.18" cy="126.04" r="2" fill="#fff" stroke="#ff8000" stroke-width="1.6" stroke-linejoin="round"/><circle cx="322.34" cy="126.05" r="2" fill="#fff" stroke="#ff8000" stroke-width="1.6" stroke-linejoin="round"/><circle cx="325.5" cy="126.05" r="2" fill="#fff" stroke="#ff8000" stroke-width="1.6" stroke-linejoin="round"/><circle cx="328.66" cy="126.05" r="2" fill="#fff" stroke="#ff8000" stroke-width="1.6" stroke-linejoin="round"/><circle cx="331.82" cy="126.06" r="2" fill="#fff" stroke="#ff8000" stroke-width="1.6" stroke-linejoin="round"/><circle cx="334.98" cy="126.06" r="2" fill="#fff" stroke="#ff8000" stroke-width="1.6" stroke-linejoin="round"/><circle cx="338.14" cy="126.06" r="2" fill="#fff" stroke="#ff8000" stroke-width="1.6" stroke-linejoin="round"/><circle cx="341.3" cy="126.07" r="2" fill="#fff" stroke="#ff8000" stroke-width="1.6" stroke-linejoin="round"/><circle cx="344.46" cy="126.07" r="2" fill="#fff" stroke="#ff8000" stroke-width="1.6" stroke-linejoin="round"/><circle cx="347.62" cy="126.08" r="2" fill="#fff" stroke="#ff8000" stroke-width="1.6" stroke-linejoin="round"/><circle cx="350.78" cy="126.08" r="2" fill="#fff" stroke="#ff8000" stroke-width="1.6" stroke-linejoin="round"/><circle cx="353.94" cy="126.08" r="2" fill="#fff" stroke="#ff8000" stroke-width="1.6" stroke-linejoin="round"/><circle cx="357.1" cy="126.09" r="2" fill="#fff" stroke="#ff8000" stroke-width="1.6" stroke-linejoin="round"/><circle cx="360.26" cy="126.09" r="2" fill="#fff" stroke="#ff8000" stroke-width="1.6" stroke-linejoin="round"/><circle cx="363.42" cy="126.1" r="2" fill="#fff" stroke="#ff8000" stroke-width="1.6" stroke-linejoin="round"/><circle cx="366.58" cy="126.1" r="2" fill="#fff" stroke="#ff8000" stroke-width="1.6" stroke-linejoin="round"/><circle cx="369.74" cy="126.1" r="2" fill="#fff" stroke="#ff8000" stroke-width="1.6" stroke-linejoin="round"/><circle cx="372.9" cy="126.11" r="2" fill="#fff" stroke="#ff8000" stroke-width="1.6" stroke-linejoin="round"/><circle cx="376.06" cy="126.11" r="2" fill="#fff" stroke="#ff8000" stroke-width="1.6" stroke-linejoin="round"/><circle cx="379.22" cy="126.11" r="2" fill="#fff" stroke="#ff8000" stroke-width="1.6" stroke-linejoin="round"/><circle cx="382.38" cy="126.12" r="2" fill="#fff" stroke="#ff8000" stroke-width="1.6" stroke-linejoin="round"/><circle cx="385.54" cy="126.12" r="2" fill="#fff" stroke="#ff8000" stroke-width="1.6" stroke-linejoin="round"/><circle cx="388.7" cy="126.13" r="2" fill="#fff" stroke="#ff8000" stroke-width="1.6" stroke-linejoin="round"/><circle cx="391.86" cy="126.13" r="2" fill="#fff" stroke="#ff8000" stroke-width="1.6" stroke-linejoin="round"/><circle cx="395.02" cy="126.13" r="2" fill="#fff" stroke="#ff8000" stroke-width="1.6" stroke-linejoin="round"/><circle cx="398.18" cy="126.14" r="2" fill="#fff" stroke="#ff8000" stroke-width="1.6" stroke-linejoin="round"/><circle cx="401.34" cy="126.14" r="2" fill="#fff" stroke="#ff8000" stroke-width="1.6" stroke-linejoin="round"/><circle cx="404.5" cy="126.14" r="2" fill="#fff" stroke="#ff8000" stroke-width="1.6" stroke-linejoin="round"/><circle cx="407.66" cy="126.15" r="2" fill="#fff" stroke="#ff8000" stroke-width="1.6" stroke-linejoin="round"/><circle cx="410.82" cy="126.15" r="2" fill="#fff" stroke="#ff8000" stroke-width="1.6" stroke-linejoin="round"/><circle cx="413.98" cy="126.16" r="2" fill="#fff" stroke="#ff8000" stroke-width="1.6" stroke-linejoin="round"/><circle cx="417.14" cy="126.16" r="2" fill="#fff" stroke="#ff8000" stroke-width="1.6" stroke-linejoin="round"/><circle cx="420.3" cy="126.16" r="2" fill="#fff" stroke="#ff8000" stroke-width="1.6" stroke-linejoin="round"/><circle cx="423.46" cy="126.17" r="2" fill="#fff" stroke="#ff8000" stroke-width="1.6" stroke-linejoin="round"/><circle cx="426.62" cy="126.17" r="2" fill="#fff" stroke="#ff8000" stroke-width="1.6" stroke-linejoin="round"/><circle cx="429.78" cy="126.17" r="2" fill="#fff" stroke="#ff8000" stroke-width="1.6" stroke-linejoin="round"/><circle cx="432.94" cy="126.18" r="2" fill="#fff" stroke="#ff8000" stroke-width="1.6" stroke-linejoin="round"/><circle cx="436.1" cy="126.18" r="2" fill="#fff" stroke="#ff8000" stroke-width="1.6" stroke-linejoin="round"/><circle cx="439.26" cy="126.19" r="2" fill="#fff" stroke="#ff8000" stroke-width="1.6" stroke-linejoin="round"/><circle cx="442.42" cy="126.19" r="2" fill="#fff" stroke="#ff8000" stroke-width="1.6" stroke-linejoin="round"/><circle cx="445.58" cy="126.19" r="2" fill="#fff" stroke="#ff8000" stroke-width="1.6" stroke-linejoin="round"/><circle cx="448.74" cy="126.2" r="2" fill="#fff" stroke="#ff8000" stroke-width="1.6" stroke-linejoin="round"/><circle cx="451.9" cy="126.2" r="2" fill="#fff" stroke="#ff8000" stroke-width="1.6" stroke-linejoin="round"/><circle cx="455.06" cy="126.2" r="2" fill="#fff" stroke="#ff8000" stroke-width="1.6" stroke-linejoin="round"/><circle cx="458.22" cy="126.21" r="2" fill="#fff" stroke="#ff8000" stroke-width="1.6" stroke-linejoin="round"/><circle cx="461.38" cy="126.21" r="2" fill="#fff" stroke="#ff8000" stroke-width="1.6" stroke-linejoin="round"/><circle cx="464.54" cy="126.22" r="2" fill="#fff" stroke="#ff8000" stroke-width="1.6" stroke-linejoin="round"/><circle cx="467.7" cy="126.22" r="2" fill="#fff" stroke="#ff8000" stroke-width="1.6" stroke-linejoin="round"/><circle cx="470.86" cy="126.22" r="2" fill="#fff" stroke="#ff8000" stroke-width="1.6" stroke-linejoin="round"/><circle cx="474.02" cy="126.23" r="2" fill="#fff" stroke="#ff8000" stroke-width="1.6" stroke-linejoin="round"/><circle cx="477.18" cy="126.23" r="2" fill="#fff" stroke="#ff8000" stroke-width="1.6" stroke-linejoin="round"/><circle cx="480.34" cy="126.23" r="2" fill="#fff" stroke="#ff8000" stroke-width="1.6" stroke-linejoin="round"/><circle cx="483.5" cy="126.24" r="2" fill="#fff" stroke="#ff8000" stroke-width="1.6" stroke-linejoin="round"/><circle cx="486.66" cy="126.24" r="2" fill="#fff" stroke="#ff8000" stroke-width="1.6" stroke-linejoin="round"/><circle cx="489.82" cy="126.25" r="2" fill="#fff" stroke="#ff8000" stroke-width="1.6" stroke-linejoin="round"/><circle cx="492.98" cy="126.25" r="2" fill="#fff" stroke="#ff8000" stroke-width="1.6" stroke-linejoin="round"/><circle cx="496.14" cy="126.25" r="2" fill="#fff" stroke="#ff8000" stroke-width="1.6" stroke-linejoin="round"/><circle cx="499.3" cy="126.26" r="2" fill="#fff" stroke="#ff8000" stroke-width="1.6" stroke-linejoin="round"/><circle cx="502.46" cy="126.26" r="2" fill="#fff" stroke="#ff8000" stroke-width="1.6" stroke-linejoin="round"/><circle cx="505.62" cy="126.26" r="2" fill="#fff" stroke="#ff8000" stroke-width="1.6" stroke-linejoin="round"/><circle cx="508.78" cy="126.27" r="2" fill="#fff" stroke="#ff8000" stroke-width="1.6" stroke-linejoin="round"/><circle cx="511.94" cy="126.27" r="2" fill="#fff" stroke="#ff8000" stroke-width="1.6" stroke-linejoin="round"/><circle cx="515.1" cy="126.28" r="2" fill="#fff" stroke="#ff8000" stroke-width="1.6" stroke-linejoin="round"/><circle cx="518.26" cy="126.28" r="2" fill="#fff" stroke="#ff8000" stroke-width="1.6" stroke-linejoin="round"/><circle cx="521.42" cy="126.28" r="2" fill="#fff" stroke="#ff8000" stroke-width="1.6" stroke-linejoin="round"/><circle cx="524.58" cy="126.29" r="2" fill="#fff" stroke="#ff8000" stroke-width="1.6" stroke-linejoin="round"/><circle cx="527.74" cy="126.29" r="2" fill="#fff" stroke="#ff8000" stroke-width="1.6" stroke-linejoin="round"/><circle cx="530.9" cy="126.3" r="2" fill="#fff" stroke="#ff8000" stroke-width="1.6" stroke-linejoin="round"/><circle cx="534.06" cy="126.3" r="2" fill="#fff" stroke="#ff8000" stroke-width="1.6" stroke-linejoin="round"/><path d="M70.35 180.94L72.7 176.71L75.05 180.94Z" fill="#fff" stroke="#000" stroke-width="1.4" stroke-linejoin="round"/><path d="M73.51 180.65L75.86 176.42L78.21 180.65Z" fill="#fff" stroke="#000" stroke-width="1.4" stroke-linejoin="round"/><path d="M76.67 180.36L79.02 176.13L81.37 180.36Z" fill="#fff" stroke="#000" stroke-width="1.4" stroke-linejoin="round"/><path d="M79.83 180.07L82.18 175.84L84.53 180.07Z" fill="#fff" stroke="#000" stroke-width="1.4" stroke-linejoin="round"/><path d="M82.99 179.77L85.34 175.54L87.69 179.77Z" fill="#fff" stroke="#000" stroke-width="1.4" stroke-linejoin="round"/><path d="M86.15 179.37L88.5 175.13L90.85 179.37Z" fill="#fff" stroke="#000" stroke-width="1.4" stroke-linejoin="round"/><path d="M89.31 178.96L91.66 174.73L94.01 178.96Z" fill="#fff" stroke="#000" stroke-width="1.4" stroke-linejoin="round"/><path d="M92.47 178.55L94.82 174.32L97.17 178.55Z" fill="#fff" stroke="#000" stroke-width="1.4" stroke-linejoin="round"/><path d="M95.63 178.15L97.98 173.92L100.33 178.15Z" fill="#fff" stroke="#000" stroke-width="1.4" stroke-linejoin="round"/><path d="M98.79 176.95L101.14 172.72L103.49 176.95Z" fill="#fff" stroke="#000" stroke-width="1.4" stroke-linejoin="round"/><path d="M101.95 175.37L104.3 171.14L106.65 175.37Z" fill="#fff" stroke="#000" stroke-width="1.4" stroke-linejoin="round"/><path d="M105.11 173.54L107.46 169.31L109.81 173.54Z" fill="#fff" stroke="#000" stroke-width="1.4" stroke-linejoin="round"/><path d="M108.27 171.86L110.62 167.63L112.97 171.86Z" fill="#fff" stroke="#000" stroke-width="1.4" stroke-linejoin="round"/><path d="M111.43 171.07L113.78 166.84L116.13 171.07Z" fill="#fff" stroke="#000" stroke-width="1.4" stroke-linejoin="round"/><path d="M114.59 170.47L116.94 166.24L119.29 170.47Z" fill="#fff" stroke="#000" stroke-width="1.4" stroke-linejoin="round"/><path d="M117.75 170.33L120.1 166.1L122.45 170.33Z" fill="#fff" stroke="#000" stroke-width="1.4" stroke-linejoin="round"/><path d="M120.91 170.18L123.26 165.95L125.61 170.18Z" fill="#fff" stroke="#000" stroke-width="1.4" stroke-linejoin="round"/><path d="M124.07 170.04L126.42 165.81L128.77 170.04Z" fill="#fff" stroke="#000" stroke-width="1.4" stroke-linejoin="round"/><path d="M127.23 170.01L129.58 165.78L131.93 170.01Z" fill="#fff" stroke="#000" stroke-width="1.4" stroke-linejoin="round"/><path d="M130.39 170.01L132.74 165.78L135.09 170.01Z" fill="#fff" stroke="#000" stroke-width="1.4" stroke-linejoin="round"/><path d="M133.55 170L135.9 165.77L138.25 170Z" fill="#fff" stroke="#000" stroke-width="1.4" stroke-linejoin="round"/><path d="M136.71 170L139.06 165.77L141.41 170Z" fill="#fff" stroke="#000" stroke-width="1.4" stroke-linejoin="round"/><path d="M139.87 169.99L142.22 165.76L144.57 169.99Z" fill="#fff" stroke="#000" stroke-width="1.4" stroke-linejoin="round"/><path d="M143.03 169.99L145.38 165.76L147.73 169.99Z" fill="#fff" stroke="#000" stroke-width="1.4" stroke-linejoin="round"/><path d="M146.19 169.99L148.54 165.76L150.89 169.99Z" fill="#fff" stroke="#000" stroke-width="1.4" stroke-linejoin="round"/><path d="M149.35 169.98L151.7 165.75L154.05 169.98Z" fill="#fff" stroke="#000" stroke-width="1.4" stroke-linejoin="round"/><path d="M152.51 169.98L154.86 165.75L157.21 169.98Z" fill="#fff" stroke="#000" stroke-width="1.4" stroke-linejoin="round"/><path d="M155.67 169.97L158.02 165.74L160.37 169.97Z" fill="#fff" stroke="#000" stroke-width="1.4" stroke-linejoin="round"/><path d="M158.83 169.97L161.18 165.74L163.53 169.97Z" fill="#fff" stroke="#000" stroke-width="1.4" stroke-linejoin="round"/><path d="M161.99 169.96L164.34 165.73L166.69 169.96Z" fill="#fff" stroke="#000" stroke-width="1.4" stroke-linejoin="round"/><path d="M165.15 169.96L167.5 165.73L169.85 169.96Z" fill="#fff" stroke="#000" stroke-width="1.4" stroke-linejoin="round"/><path d="M168.31 169.96L170.66 165.73L173.01 169.96Z" fill="#fff" stroke="#000" stroke-width="1.4" stroke-linejoin="round"/><path d="M171.47 169.95L173.82 165.72L176.17 169.95Z" fill="#fff" stroke="#000" stroke-width="1.4" stroke-linejoin="round"/><path d="M174.63 169.95L176.98 165.72L179.33 169.95Z" fill="#fff" stroke="#000" stroke-width="1.4" stroke-linejoin="round"/><path d="M177.79 169.94L180.14 165.71L182.49 169.94Z" fill="#fff" stroke="#000" stroke-width="1.4" stroke-linejoin="round"/><path d="M180.95 169.94L183.3 165.71L185.65 169.94Z" fill="#fff" stroke="#000" stroke-width="1.4" stroke-linejoin="round"/><path d="M184.11 169.93L186.46 165.7L188.81 169.93Z" fill="#fff" stroke="#000" stroke-width="1.4" stroke-linejoin="round"/><path d="M187.27 169.93L189.62 165.7L191.97 169.93Z" fill="#fff" stroke="#000" stroke-width="1.4" stroke-linejoin="round"/><path d="M190.43 169.92L192.78 165.69L195.13 169.92Z" fill="#fff" stroke="#000" stroke-width="1.4" stroke-linejoin="round"/><path d="M193.59 169.92L195.94 165.69L198.29 169.92Z" fill="#fff" stroke="#000" stroke-width="1.4" stroke-linejoin="round"/><path d="M196.75 169.92L199.1 165.69L201.45 169.92Z" fill="#fff" stroke="#000" stroke-width="1.4" stroke-linejoin="round"/><path d="M199.91 169.92L202.26 165.69L204.61 169.92Z" fill="#fff" stroke="#000" stroke-width="1.4" stroke-linejoin="round"/><path d="M203.07 169.92L205.42 165.69L207.77 169.92Z" fill="#fff" stroke="#000" stroke-width="1.4" stroke-linejoin="round"/><path d="M206.23 169.92L208.58 165.69L210.93 169.92Z" fill="#fff" stroke="#000" stroke-width="1.4" stroke-linejoin="round"/><path d="M209.39 169.92L211.74 165.69L214.09 169.92Z" fill="#fff" stroke="#000" stroke-width="1.4" stroke-linejoin="round"/><path d="M212.55 169.92L214.9 165.69L217.25 169.92Z" fill="#fff" stroke="#000" stroke-width="1.4" stroke-linejoin="round"/><path d="M215.71 169.93L218.06 165.7L220.41 169.93Z" fill="#fff" stroke="#000" stroke-width="1.4" stroke-linejoin="round"/><path d="M218.87 169.93L221.22 165.7L223.57 169.93Z" fill="#fff" stroke="#000" stroke-width="1.4" stroke-linejoin="round"/><path d="M222.03 169.93L224.38 165.7L226.73 169.93Z" fill="#fff" stroke="#000" stroke-width="1.4" stroke-linejoin="round"/><path d="M225.19 169.93L227.54 165.7L229.89 169.93Z" fill="#fff" stroke="#000" stroke-width="1.4" stroke-linejoin="round"/><path d="M228.35 169.93L230.7 165.7L233.05 169.93Z" fill="#fff" stroke="#000" stroke-width="1.4" stroke-linejoin="round"/><path d="M231.51 169.94L233.86 165.71L236.21 169.94Z" fill="#fff" stroke="#000" stroke-width="1.4" stroke-linejoin="round"/><path d="M234.67 169.94L237.02 165.71L239.37 169.94Z" fill="#fff" stroke="#000" stroke-width="1.4" stroke-linejoin="round"/><path d="M237.83 169.94L240.18 165.71L242.53 169.94Z" fill="#fff" stroke="#000" stroke-width="1.4" stroke-linejoin="round"/><path d="M240.99 169.94L243.34 165.71L245.69 169.94Z" fill="#fff" stroke="#000" stroke-width="1.4" stroke-linejoin="round"/><path d="M244.15 169.94L246.5 165.71L248.85 169.94Z" fill="#fff" stroke="#000" stroke-width="1.4" stroke-linejoin="round"/><path d="M247.31 169.94L249.66 165.71L252.01 169.94Z" fill="#fff" stroke="#000" stroke-width="1.4" stroke-linejoin="round"/><path d="M250.47 169.95L252.82 165.72L255.17 169.95Z" fill="#fff" stroke="#000" stroke-width="1.4" stroke-linejoin="round"/><path d="M253.63 169.95L255.98 165.72L258.33 169.95Z" fill="#fff" stroke="#000" stroke-width="1.4" stroke-linejoin="round"/><path d="M256.79 169.95L259.14 165.72L261.49 169.95Z" fill="#fff" stroke="#000" stroke-width="1.4" stroke-linejoin="round"/><path d="M259.95 169.95L262.3 165.72L264.65 169.95Z" fill="#fff" stroke="#000" stroke-width="1.4" stroke-linejoin="round"/><path d="M263.11 169.95L265.46 165.72L267.81 169.95Z" fill="#fff" stroke="#000" stroke-width="1.4" stroke-linejoin="round"/><path d="M266.27 169.96L268.62 165.73L270.97 169.96Z" fill="#fff" stroke="#000" stroke-width="1.4" stroke-linejoin="round"/><path d="M269.43 169.96L271.78 165.73L274.13 169.96Z" fill="#fff" stroke="#000" stroke-width="1.4" stroke-linejoin="round"/><path d="M272.59 169.96L274.94 165.73L277.29 169.96Z" fill="#fff" stroke="#000" stroke-width="1.4" stroke-linejoin="round"/><path d="M275.75 169.96L278.1 165.73L280.45 169.96Z" fill="#fff" stroke="#000" stroke-width="1.4" stroke-linejoin="round"/><path d="M278.91 169.96L281.26 165.73L283.61 169.96Z" fill="#fff" stroke="#000" stroke-width="1.4" stroke-linejoin="round"/><path d="M282.07 169.97L284.42 165.74L286.77 169.97Z" fill="#fff" stroke="#000" stroke-width="1.4" stroke-linejoin="round"/><path d="M285.23 169.97L287.58 165.74L289.93 169.97Z" fill="#fff" stroke="#000" stroke-width="1.4" stroke-linejoin="round"/><path d="M288.39 169.97L290.74 165.74L293.09 169.97Z" fill="#fff" stroke="#000" stroke-width="1.4" stroke-linejoin="round"/><path d="M291.55 169.97L293.9 165.74L296.25 169.97Z" fill="#fff" stroke="#000" stroke-width="1.4" stroke-linejoin="round"/><path d="M294.71 169.97L297.06 165.74L299.41 169.97Z" fill="#fff" stroke="#000" stroke-width="1.4" stroke-linejoin="round"/><path d="M297.87 169.97L300.22 165.74L302.57 169.97Z" fill="#fff" stroke="#000" stroke-width="1.4" stroke-linejoin="round"/><path d="M301.03 169.98L303.38 165.75L305.73 169.98Z" fill="#fff" stroke="#000" stroke-width="1.4" stroke-linejoin="round"/><path d="M304.19 169.98L306.54 165.75L308.89 169.98Z" fill="#fff" stroke="#000" stroke-width="1.4" stroke-linejoin="round"/><path d="M307.35 169.98L309.7 165.75L312.05 169.98Z" fill="#fff" stroke="#000" stroke-width="1.4" stroke-linejoin="round"/><path d="M310.51 169.98L312.86 165.75L315.21 169.98Z" fill="#fff" stroke="#000" stroke-width="1.4" stroke-linejoin="round"/><path d="M313.67 169.98L316.02 165.75L318.37 169.98Z" fill="#fff" stroke="#000" stroke-width="1.4" stroke-linejoin="round"/><path d="M316.83 169.99L319.18 165.76L321.53 169.99Z" fill="#fff" stroke="#000" stroke-width="1.4" stroke-linejoin="round"/><path d="M319.99 169.99L322.34 165.76L324.69 169.99Z" fill="#fff" stroke="#000" stroke-width="1.4" stroke-linejoin="round"/><path d="M323.15 169.99L325.5 165.76L327.85 169.99Z" fill="#fff" stroke="#000" stroke-width="1.4" stroke-linejoin="round"/><path d="M326.31 169.99L328.66 165.76L331.01 169.99Z" fill="#fff" stroke="#000" stroke-width="1.4" stroke-linejoin="round"/><path d="M329.47 169.99L331.82 165.76L334.17 169.99Z" fill="#fff" stroke="#000" stroke-width="1.4" stroke-linejoin="round"/><path d="M332.63 170L334.98 165.77L337.33 170Z" fill="#fff" stroke="#000" stroke-width="1.4" stroke-linejoin="round"/><path d="M335.79 170L338.14 165.77L340.49 170Z" fill="#fff" stroke="#000" stroke-width="1.4" stroke-linejoin="round"/><path d="M338.95 170L341.3 165.77L343.65 170Z" fill="#fff" stroke="#000" stroke-width="1.4" stroke-linejoin="round"/><path d="M342.11 170L344.46 165.77L346.81 170Z" fill="#fff" stroke="#000" stroke-width="1.4" stroke-linejoin="round"/><path d="M345.27 170L347.62 165.77L349.97 170Z" fill="#fff" stroke="#000" stroke-width="1.4" stroke-linejoin="round"/><path d="M348.43 170.01L350.78 165.78L353.13 170.01Z" fill="#fff" stroke="#000" stroke-width="1.4" stroke-linejoin="round"/><path d="M351.59 170.01L353.94 165.78L356.29 170.01Z" fill="#fff" stroke="#000" stroke-width="1.4" stroke-linejoin="round"/><path d="M354.75 170.01L357.1 165.78L359.45 170.01Z" fill="#fff" stroke="#000" stroke-width="1.4" stroke-linejoin="round"/><path d="M357.91 170.01L360.26 165.78L362.61 170.01Z" fill="#fff" stroke="#000" stroke-width="1.4" stroke-linejoin="round"/><path d="M361.07 170.01L363.42 165.78L365.77 170.01Z" fill="#fff" stroke="#000" stroke-width="1.4" stroke-linejoin="round"/><path d="M364.23 170.01L366.58 165.78L368.93 170.01Z" fill="#fff" stroke="#000" stroke-width="1.4" stroke-linejoin="round"/><path d="M367.39 170.02L369.74 165.79L372.09 170.02Z" fill="#fff" stroke="#000" stroke-width="1.4" stroke-linejoin="round"/><path d="M370.55 170.02L372.9 165.79L375.25 170.02Z" fill="#fff" stroke="#000" stroke-width="1.4" stroke-linejoin="round"/><path d="M373.71 170.02L376.06 165.79L378.41 170.02Z" fill="#fff" stroke="#000" stroke-width="1.4" stroke-linejoin="round"/><path d="M376.87 170.02L379.22 165.79L381.57 170.02Z" fill="#fff" stroke="#000" stroke-width="1.4" stroke-linejoin="round"/><path d="M380.03 170.02L382.38 165.79L384.73 170.02Z" fill="#fff" stroke="#000" stroke-width="1.4" stroke-linejoin="round"/><path d="M383.19 170.03L385.54 165.8L387.89 170.03Z" fill="#fff" stroke="#000" stroke-width="1.4" stroke-linejoin="round"/><path d="M386.35 170.03L388.7 165.8L391.05 170.03Z" fill="#fff" stroke="#000" stroke-width="1.4" stroke-linejoin="round"/><path d="M389.51 170.03L391.86 165.8L394.21 170.03Z" fill="#fff" stroke="#000" stroke-width="1.4" stroke-linejoin="round"/><path d="M392.67 170.03L395.02 165.8L397.37 170.03Z" fill="#fff" stroke="#000" stroke-width="1.4" stroke-linejoin="round"/><path d="M395.83 170.03L398.18 165.8L400.53 170.03Z" fill="#fff" stroke="#000" stroke-width="1.4" stroke-linejoin="round"/><path d="M398.99 170.04L401.34 165.81L403.69 170.04Z" fill="#fff" stroke="#000" stroke-width="1.4" stroke-linejoin="round"/><path d="M402.15 170.04L404.5 165.81L406.85 170.04Z" fill="#fff" stroke="#000" stroke-width="1.4" stroke-linejoin="round"/><path d="M405.31 170.04L407.66 165.81L410.01 170.04Z" fill="#fff" stroke="#000" stroke-width="1.4" stroke-linejoin="round"/><path d="M408.47 170.04L410.82 165.81L413.17 170.04Z" fill="#fff" stroke="#000" stroke-width="1.4" stroke-linejoin="round"/><path d="M411.63 170.04L413.98 165.81L416.33 170.04Z" fill="#fff" stroke="#000" stroke-width="1.4" stroke-linejoin="round"/><path d="M414.79 170.04L417.14 165.81L419.49 170.04Z" fill="#fff" stroke="#000" stroke-width="1.4" stroke-linejoin="round"/><path d="M417.95 170.05L420.3 165.82L422.65 170.05Z" fill="#fff" stroke="#000" stroke-width="1.4" stroke-linejoin="round"/><path d="M421.11 170.05L423.46 165.82L425.81 170.05Z" fill="#fff" stroke="#000" stroke-width="1.4" stroke-linejoin="round"/><path d="M424.27 170.05L426.62 165.82L428.97 170.05Z" fill="#fff" stroke="#000" stroke-width="1.4" stroke-linejoin="round"/><path d="M427.43 170.05L429.78 165.82L432.13 170.05Z" fill="#fff" stroke="#000" stroke-width="1.4" stroke-linejoin="round"/><path d="M430.59 170.05L432.94 165.82L435.29 170.05Z" fill="#fff" stroke="#000" stroke-width="1.4" stroke-linejoin="round"/><path d="M433.75 170.06L436.1 165.83L438.45 170.06Z" fill="#fff" stroke="#000" stroke-width="1.4" stroke-linejoin="round"/><path d="M436.91 170.06L439.26 165.83L441.61 170.06Z" fill="#fff" stroke="#000" stroke-width="1.4" stroke-linejoin="round"/><path d="M440.07 170.06L442.42 165.83L444.77 170.06Z" fill="#fff" stroke="#000" stroke-width="1.4" stroke-linejoin="round"/><path d="M443.23 170.06L445.58 165.83L447.93 170.06Z" fill="#fff" stroke="#000" stroke-width="1.4" stroke-linejoin="round"/><path d="M446.39 170.06L448.74 165.83L451.09 170.06Z" fill="#fff" stroke="#000" stroke-width="1.4" stroke-linejoin="round"/><path d="M449.55 170.07L451.9 165.84L454.25 170.07Z" fill="#fff" stroke="#000" stroke-width="1.4" stroke-linejoin="round"/><path d="M452.71 170.07L455.06 165.84L457.41 170.07Z" fill="#fff" stroke="#000" stroke-width="1.4" stroke-linejoin="round"/><path d="M455.87 170.07L458.22 165.84L460.57 170.07Z" fill="#fff" stroke="#000" stroke-width="1.4" stroke-linejoin="round"/><path d="M459.03 170.07L461.38 165.84L463.73 170.07Z" fill="#fff" stroke="#000" stroke-width="1.4" stroke-linejoin="round"/><path d="M462.19 170.07L464.54 165.84L466.89 170.07Z" fill="#fff" stroke="#000" stroke-width="1.4" stroke-linejoin="round"/><path d="M465.35 170.07L467.7 165.84L470.05 170.07Z" fill="#fff" stroke="#000" stroke-width="1.4" stroke-linejoin="round"/><path d="M468.51 170.08L470.86 165.85L473.21 170.08Z" fill="#fff" stroke="#000" stroke-width="1.4" stroke-linejoin="round"/><path d="M471.67 170.08L474.02 165.85L476.37 170.08Z" fill="#fff" stroke="#000" stroke-width="1.4" stroke-linejoin="round"/><path d="M474.83 170.08L477.18 165.85L479.53 170.08Z" fill="#fff" stroke="#000" stroke-width="1.4" stroke-linejoin="round"/><path d="M477.99 170.08L480.34 165.85L482.69 170.08Z" fill="#fff" stroke="#000" stroke-width="1.4" stroke-linejoin="round"/><path d="M481.15 170.08L483.5 165.85L485.85 170.08Z" fill="#fff" stroke="#000" stroke-width="1.4" stroke-linejoin="round"/><path d="M484.31 170.09L486.66 165.86L489.01 170.09Z" fill="#fff" stroke="#000" stroke-width="1.4" stroke-linejoin="round"/><path d="M487.47 170.09L489.82 165.86L492.17 170.09Z" fill="#fff" stroke="#000" stroke-width="1.4" stroke-linejoin="round"/><path d="M490.63 170.09L492.98 165.86L495.33 170.09Z" fill="#fff" stroke="#000" stroke-width="1.4" stroke-linejoin="round"/><path d="M493.79 170.09L496.14 165.86L498.49 170.09Z" fill="#fff" stroke="#000" stroke-width="1.4" stroke-linejoin="round"/><path d="M496.95 170.09L499.3 165.86L501.65 170.09Z" fill="#fff" stroke="#000" stroke-width="1.4" stroke-linejoin="round"/><path d="M500.11 170.1L502.46 165.87L504.81 170.1Z" fill="#fff" stroke="#000" stroke-width="1.4" stroke-linejoin="round"/><path d="M503.27 170.1L505.62 165.87L507.97 170.1Z" fill="#fff" stroke="#000" stroke-width="1.4" stroke-linejoin="round"/><path d="M506.43 170.1L508.78 165.87L511.13 170.1Z" fill="#fff" stroke="#000" stroke-width="1.4" stroke-linejoin="round"/><path d="M509.59 170.1L511.94 165.87L514.29 170.1Z" fill="#fff" stroke="#000" stroke-width="1.4" stroke-linejoin="round"/><path d="M512.75 170.1L515.1 165.87L517.45 170.1Z" fill="#fff" stroke="#000" stroke-width="1.4" stroke-linejoin="round"/><path d="M515.91 170.11L518.26 165.88L520.61 170.11Z" fill="#fff" stroke="#000" stroke-width="1.4" stroke-linejoin="round"/><path d="M519.07 170.11L521.42 165.88L523.77 170.11Z" fill="#fff" stroke="#000" stroke-width="1.4" stroke-linejoin="round"/><path d="M522.23 170.11L524.58 165.88L526.93 170.11Z" fill="#fff" stroke="#000" stroke-width="1.4" stroke-linejoin="round"/><path d="M525.39 170.11L527.74 165.88L530.09 170.11Z" fill="#fff" stroke="#000" stroke-width="1.4" stroke-linejoin="round"/><path d="M528.55 170.11L530.9 165.88L533.25 170.11Z" fill="#fff" stroke="#000" stroke-width="1.4" stroke-linejoin="round"/><path d="M531.71 170.11L534.06 165.88L536.41 170.11Z" fill="#fff" stroke="#000" stroke-width="1.4" stroke-linejoin="round"/></g>
<text x="70.8" y="214.8" text-anchor="middle" font-size="15" >0</text>
<text x="163.64" y="214.8" text-anchor="middle" font-size="15" >5</text>
<text x="256.48" y="214.8" text-anchor="middle" font-size="15" >10</text>
<text x="349.32" y="214.8" text-anchor="middle" font-size="15" >15</text>
<text x="442.16" y="214.8" text-anchor="middle" font-size="15" >20</text>
<text x="535" y="214.8" text-anchor="middle" font-size="15" >25</text>
<text x="64.5" y="178.2" text-anchor="end" font-size="15" >1.5</text>
<text x="64.5" y="131.47" text-anchor="end" font-size="15" >1.6</text>
<text x="64.5" y="84.74" text-anchor="end" font-size="15" >1.7</text>
<text x="64.5" y="38.01" text-anchor="end" font-size="15" >1.8</text>
<text x="303" y="239.4" text-anchor="middle" font-size="14.5" word-spacing="0.6"><tspan font-style="italic">V</tspan> ( V vs RHE )</text>
<text transform="translate(26.6 103.7) rotate(-90)" text-anchor="middle" font-size="14.5" word-spacing="0.6"><tspan font-style="italic">J</tspan> ( mA cm<tspan dy="-6" font-size="10.5">−2</tspan><tspan dy="6"> )</tspan></text>
<text x="21" y="19.2" text-anchor="start" font-size="15" >(a)</text>
<text x="526" y="29.1" text-anchor="end" font-size="12.2" >N,CuO@CuS</text>
<path d="M79 27.7H100" stroke="#808a00" stroke-width="1.4"/><rect x="88.05" y="26.05" width="3.3" height="3.3" fill="#fff" stroke="#808a00" stroke-width="1.7" stroke-linejoin="round"/>
<path d="M79 47.4H100" stroke="#ff8000" stroke-width="1.4"/><circle cx="89.6" cy="47.3" r="1.8" fill="#fff" stroke="#ff8000" stroke-width="1.6" stroke-linejoin="round"/>
<path d="M79 66.7H100" stroke="#000" stroke-width="1.4"/><path d="M87.45 69.11L89.9 64.7L92.35 69.11Z" fill="#fff" stroke="#000" stroke-width="1.5" stroke-linejoin="round"/>
<text x="104" y="31" font-size="12.5">100 mA cm<tspan dy="-5" font-size="9.3">−2</tspan></text>
<text x="105.4" y="51.3" font-size="12.5">&#160;50 mA cm<tspan dy="-5" font-size="9.3">−2</tspan></text>
<text x="105.5" y="70.5" font-size="12.5">&#160;10 mA cm<tspan dy="-5" font-size="9.3">−2</tspan></text>
<path d="M70 265H261V451.3H70Z" fill="none" stroke="#000" stroke-width="1.5"/>
<path d="M87.36 451.3v-4.8M156.82 451.3v-4.8M226.27 451.3v-4.8M122.09 451.3v-2.6M191.55 451.3v-2.6M70 437.5h4.8M70 368.5h4.8M70 299.5h4.8M70 403h2.6M70 334h2.6" stroke="#000" stroke-width="1.3" fill="none"/>
<g clip-path="url(#cb)"><circle cx="87.57" cy="437.99" r="1.65" fill="#fff" stroke="#ff8000" stroke-width="2.1" stroke-linejoin="round"/><circle cx="87.81" cy="437.22" r="1.65" fill="#fff" stroke="#ff8000" stroke-width="2.1" stroke-linejoin="round"/><circle cx="88.05" cy="436.39" r="1.65" fill="#fff" stroke="#ff8000" stroke-width="2.1" stroke-linejoin="round"/><circle cx="88.29" cy="435.56" r="1.65" fill="#fff" stroke="#ff8000" stroke-width="2.1" stroke-linejoin="round"/><circle cx="88.54" cy="434.67" r="1.65" fill="#fff" stroke="#ff8000" stroke-width="2.1" stroke-linejoin="round"/><circle cx="88.79" cy="433.74" r="1.65" fill="#fff" stroke="#ff8000" stroke-width="2.1" stroke-linejoin="round"/><circle cx="89.04" cy="432.75" r="1.65" fill="#fff" stroke="#ff8000" stroke-width="2.1" stroke-linejoin="round"/><circle cx="89.31" cy="431.7" r="1.65" fill="#fff" stroke="#ff8000" stroke-width="2.1" stroke-linejoin="round"/><circle cx="89.58" cy="430.6" r="1.65" fill="#fff" stroke="#ff8000" stroke-width="2.1" stroke-linejoin="round"/><circle cx="89.85" cy="429.44" r="1.65" fill="#fff" stroke="#ff8000" stroke-width="2.1" stroke-linejoin="round"/><circle cx="90.13" cy="428.23" r="1.65" fill="#fff" stroke="#ff8000" stroke-width="2.1" stroke-linejoin="round"/><circle cx="90.41" cy="426.96" r="1.65" fill="#fff" stroke="#ff8000" stroke-width="2.1" stroke-linejoin="round"/><circle cx="90.7" cy="425.63" r="1.65" fill="#fff" stroke="#ff8000" stroke-width="2.1" stroke-linejoin="round"/><circle cx="91" cy="424.25" r="1.65" fill="#fff" stroke="#ff8000" stroke-width="2.1" stroke-linejoin="round"/><circle cx="91.31" cy="422.75" r="1.65" fill="#fff" stroke="#ff8000" stroke-width="2.1" stroke-linejoin="round"/><circle cx="91.63" cy="421.2" r="1.65" fill="#fff" stroke="#ff8000" stroke-width="2.1" stroke-linejoin="round"/><circle cx="91.97" cy="419.55" r="1.65" fill="#fff" stroke="#ff8000" stroke-width="2.1" stroke-linejoin="round"/><circle cx="92.31" cy="417.88" r="1.65" fill="#fff" stroke="#ff8000" stroke-width="2.1" stroke-linejoin="round"/><circle cx="92.69" cy="416.06" r="1.65" fill="#fff" stroke="#ff8000" stroke-width="2.1" stroke-linejoin="round"/><circle cx="93.08" cy="414.18" r="1.65" fill="#fff" stroke="#ff8000" stroke-width="2.1" stroke-linejoin="round"/><circle cx="93.5" cy="412.19" r="1.65" fill="#fff" stroke="#ff8000" stroke-width="2.1" stroke-linejoin="round"/><circle cx="93.95" cy="410.11" r="1.65" fill="#fff" stroke="#ff8000" stroke-width="2.1" stroke-linejoin="round"/><circle cx="94.43" cy="407.97" r="1.65" fill="#fff" stroke="#ff8000" stroke-width="2.1" stroke-linejoin="round"/><circle cx="94.97" cy="405.68" r="1.65" fill="#fff" stroke="#ff8000" stroke-width="2.1" stroke-linejoin="round"/><circle cx="95.56" cy="403.3" r="1.65" fill="#fff" stroke="#ff8000" stroke-width="2.1" stroke-linejoin="round"/><circle cx="96.23" cy="400.78" r="1.65" fill="#fff" stroke="#ff8000" stroke-width="2.1" stroke-linejoin="round"/><circle cx="96.98" cy="398.18" r="1.65" fill="#fff" stroke="#ff8000" stroke-width="2.1" stroke-linejoin="round"/><circle cx="97.83" cy="395.45" r="1.65" fill="#fff" stroke="#ff8000" stroke-width="2.1" stroke-linejoin="round"/><circle cx="98.79" cy="392.66" r="1.65" fill="#fff" stroke="#ff8000" stroke-width="2.1" stroke-linejoin="round"/><circle cx="99.91" cy="389.72" r="1.65" fill="#fff" stroke="#ff8000" stroke-width="2.1" stroke-linejoin="round"/><circle cx="101.2" cy="386.7" r="1.65" fill="#fff" stroke="#ff8000" stroke-width="2.1" stroke-linejoin="round"/><circle cx="102.65" cy="383.7" r="1.65" fill="#fff" stroke="#ff8000" stroke-width="2.1" stroke-linejoin="round"/><circle cx="104.23" cy="380.83" r="1.65" fill="#fff" stroke="#ff8000" stroke-width="2.1" stroke-linejoin="round"/><circle cx="105.99" cy="378.01" r="1.65" fill="#fff" stroke="#ff8000" stroke-width="2.1" stroke-linejoin="round"/><circle cx="107.9" cy="375.33" r="1.65" fill="#fff" stroke="#ff8000" stroke-width="2.1" stroke-linejoin="round"/><circle cx="109.95" cy="372.8" r="1.65" fill="#fff" stroke="#ff8000" stroke-width="2.1" stroke-linejoin="round"/><circle cx="112.22" cy="370.35" r="1.65" fill="#fff" stroke="#ff8000" stroke-width="2.1" stroke-linejoin="round"/><circle cx="114.61" cy="368.08" r="1.65" fill="#fff" stroke="#ff8000" stroke-width="2.1" stroke-linejoin="round"/><circle cx="117.14" cy="365.97" r="1.65" fill="#fff" stroke="#ff8000" stroke-width="2.1" stroke-linejoin="round"/><circle cx="119.78" cy="364.04" r="1.65" fill="#fff" stroke="#ff8000" stroke-width="2.1" stroke-linejoin="round"/><circle cx="122.57" cy="362.27" r="1.65" fill="#fff" stroke="#ff8000" stroke-width="2.1" stroke-linejoin="round"/><circle cx="125.47" cy="360.71" r="1.65" fill="#fff" stroke="#ff8000" stroke-width="2.1" stroke-linejoin="round"/><circle cx="128.49" cy="359.37" r="1.65" fill="#fff" stroke="#ff8000" stroke-width="2.1" stroke-linejoin="round"/><circle cx="131.72" cy="358.25" r="1.65" fill="#fff" stroke="#ff8000" stroke-width="2.1" stroke-linejoin="round"/><circle cx="135.07" cy="357.46" r="1.65" fill="#fff" stroke="#ff8000" stroke-width="2.1" stroke-linejoin="round"/><circle cx="138.64" cy="357.03" r="1.65" fill="#fff" stroke="#ff8000" stroke-width="2.1" stroke-linejoin="round"/><circle cx="142.33" cy="357.09" r="1.65" fill="#fff" stroke="#ff8000" stroke-width="2.1" stroke-linejoin="round"/><circle cx="146.08" cy="357.72" r="1.65" fill="#fff" stroke="#ff8000" stroke-width="2.1" stroke-linejoin="round"/><circle cx="149.81" cy="358.92" r="1.65" fill="#fff" stroke="#ff8000" stroke-width="2.1" stroke-linejoin="round"/><circle cx="153.48" cy="360.64" r="1.65" fill="#fff" stroke="#ff8000" stroke-width="2.1" stroke-linejoin="round"/><circle cx="157.04" cy="362.82" r="1.65" fill="#fff" stroke="#ff8000" stroke-width="2.1" stroke-linejoin="round"/><circle cx="160.45" cy="365.37" r="1.65" fill="#fff" stroke="#ff8000" stroke-width="2.1" stroke-linejoin="round"/><circle cx="163.79" cy="368.28" r="1.65" fill="#fff" stroke="#ff8000" stroke-width="2.1" stroke-linejoin="round"/><circle cx="167" cy="371.48" r="1.65" fill="#fff" stroke="#ff8000" stroke-width="2.1" stroke-linejoin="round"/><circle cx="170.16" cy="374.98" r="1.65" fill="#fff" stroke="#ff8000" stroke-width="2.1" stroke-linejoin="round"/><circle cx="173.22" cy="378.69" r="1.65" fill="#fff" stroke="#ff8000" stroke-width="2.1" stroke-linejoin="round"/><circle cx="176.23" cy="382.64" r="1.65" fill="#fff" stroke="#ff8000" stroke-width="2.1" stroke-linejoin="round"/><circle cx="179.19" cy="386.76" r="1.65" fill="#fff" stroke="#ff8000" stroke-width="2.1" stroke-linejoin="round"/><circle cx="182.06" cy="391" r="1.65" fill="#fff" stroke="#ff8000" stroke-width="2.1" stroke-linejoin="round"/><circle cx="184.8" cy="395.27" r="1.65" fill="#fff" stroke="#ff8000" stroke-width="2.1" stroke-linejoin="round"/><circle cx="187.46" cy="399.67" r="1.65" fill="#fff" stroke="#ff8000" stroke-width="2.1" stroke-linejoin="round"/><circle cx="189.98" cy="404.07" r="1.65" fill="#fff" stroke="#ff8000" stroke-width="2.1" stroke-linejoin="round"/><circle cx="192.41" cy="408.57" r="1.65" fill="#fff" stroke="#ff8000" stroke-width="2.1" stroke-linejoin="round"/><circle cx="194.72" cy="413.1" r="1.65" fill="#fff" stroke="#ff8000" stroke-width="2.1" stroke-linejoin="round"/><circle cx="196.94" cy="417.7" r="1.65" fill="#fff" stroke="#ff8000" stroke-width="2.1" stroke-linejoin="round"/><circle cx="199.08" cy="422.35" r="1.65" fill="#fff" stroke="#ff8000" stroke-width="2.1" stroke-linejoin="round"/><circle cx="199.56" cy="423.45" r="1.65" fill="#fff" stroke="#ff8000" stroke-width="2.1" stroke-linejoin="round"/><rect x="87.47" y="436.79" width="3.6" height="3.6" fill="#fff" stroke="#808a00" stroke-width="2.2" stroke-linejoin="round"/><rect x="87.54" y="435.98" width="3.6" height="3.6" fill="#fff" stroke="#808a00" stroke-width="2.2" stroke-linejoin="round"/><rect x="87.61" y="435.12" width="3.6" height="3.6" fill="#fff" stroke="#808a00" stroke-width="2.2" stroke-linejoin="round"/><rect x="87.69" y="434.21" width="3.6" height="3.6" fill="#fff" stroke="#808a00" stroke-width="2.2" stroke-linejoin="round"/><rect x="87.79" y="433.26" width="3.6" height="3.6" fill="#fff" stroke="#808a00" stroke-width="2.2" stroke-linejoin="round"/><rect x="87.9" y="432.2" width="3.6" height="3.6" fill="#fff" stroke="#808a00" stroke-width="2.2" stroke-linejoin="round"/><rect x="88.02" y="431.1" width="3.6" height="3.6" fill="#fff" stroke="#808a00" stroke-width="2.2" stroke-linejoin="round"/><rect x="88.16" y="429.94" width="3.6" height="3.6" fill="#fff" stroke="#808a00" stroke-width="2.2" stroke-linejoin="round"/><rect x="88.32" y="428.65" width="3.6" height="3.6" fill="#fff" stroke="#808a00" stroke-width="2.2" stroke-linejoin="round"/><rect x="88.5" y="427.33" width="3.6" height="3.6" fill="#fff" stroke="#808a00" stroke-width="2.2" stroke-linejoin="round"/><rect x="88.71" y="425.88" width="3.6" height="3.6" fill="#fff" stroke="#808a00" stroke-width="2.2" stroke-linejoin="round"/><rect x="88.95" y="424.37" width="3.6" height="3.6" fill="#fff" stroke="#808a00" stroke-width="2.2" stroke-linejoin="round"/><rect x="89.22" y="422.76" width="3.6" height="3.6" fill="#fff" stroke="#808a00" stroke-width="2.2" stroke-linejoin="round"/><rect x="89.54" y="421" width="3.6" height="3.6" fill="#fff" stroke="#808a00" stroke-width="2.2" stroke-linejoin="round"/><rect x="89.9" y="419.14" width="3.6" height="3.6" fill="#fff" stroke="#808a00" stroke-width="2.2" stroke-linejoin="round"/><rect x="90.3" y="417.18" width="3.6" height="3.6" fill="#fff" stroke="#808a00" stroke-width="2.2" stroke-linejoin="round"/><rect x="90.77" y="415.12" width="3.6" height="3.6" fill="#fff" stroke="#808a00" stroke-width="2.2" stroke-linejoin="round"/><rect x="91.31" y="412.87" width="3.6" height="3.6" fill="#fff" stroke="#808a00" stroke-width="2.2" stroke-linejoin="round"/><rect x="91.93" y="410.52" width="3.6" height="3.6" fill="#fff" stroke="#808a00" stroke-width="2.2" stroke-linejoin="round"/><rect x="92.65" y="407.99" width="3.6" height="3.6" fill="#fff" stroke="#808a00" stroke-width="2.2" stroke-linejoin="round"/><rect x="93.47" y="405.34" width="3.6" height="3.6" fill="#fff" stroke="#808a00" stroke-width="2.2" stroke-linejoin="round"/><rect x="94.44" y="402.47" width="3.6" height="3.6" fill="#fff" stroke="#808a00" stroke-width="2.2" stroke-linejoin="round"/><rect x="95.56" y="399.5" width="3.6" height="3.6" fill="#fff" stroke="#808a00" stroke-width="2.2" stroke-linejoin="round"/><rect x="96.86" y="396.36" width="3.6" height="3.6" fill="#fff" stroke="#808a00" stroke-width="2.2" stroke-linejoin="round"/><rect x="98.39" y="393.06" width="3.6" height="3.6" fill="#fff" stroke="#808a00" stroke-width="2.2" stroke-linejoin="round"/><rect x="100.16" y="389.63" width="3.6" height="3.6" fill="#fff" stroke="#808a00" stroke-width="2.2" stroke-linejoin="round"/><rect x="102.28" y="386.05" width="3.6" height="3.6" fill="#fff" stroke="#808a00" stroke-width="2.2" stroke-linejoin="round"/><rect x="104.63" y="382.59" width="3.6" height="3.6" fill="#fff" stroke="#808a00" stroke-width="2.2" stroke-linejoin="round"/><rect x="107.22" y="379.28" width="3.6" height="3.6" fill="#fff" stroke="#808a00" stroke-width="2.2" stroke-linejoin="round"/><rect x="110.03" y="376.19" width="3.6" height="3.6" fill="#fff" stroke="#808a00" stroke-width="2.2" stroke-linejoin="round"/><rect x="113.11" y="373.29" width="3.6" height="3.6" fill="#fff" stroke="#808a00" stroke-width="2.2" stroke-linejoin="round"/><rect x="116.36" y="370.65" width="3.6" height="3.6" fill="#fff" stroke="#808a00" stroke-width="2.2" stroke-linejoin="round"/><rect x="119.82" y="368.29" width="3.6" height="3.6" fill="#fff" stroke="#808a00" stroke-width="2.2" stroke-linejoin="round"/><rect x="123.47" y="366.23" width="3.6" height="3.6" fill="#fff" stroke="#808a00" stroke-width="2.2" stroke-linejoin="round"/><rect x="127.31" y="364.5" width="3.6" height="3.6" fill="#fff" stroke="#808a00" stroke-width="2.2" stroke-linejoin="round"/><rect x="131.31" y="363.15" width="3.6" height="3.6" fill="#fff" stroke="#808a00" stroke-width="2.2" stroke-linejoin="round"/><rect x="135.38" y="362.23" width="3.6" height="3.6" fill="#fff" stroke="#808a00" stroke-width="2.2" stroke-linejoin="round"/><rect x="139.56" y="361.76" width="3.6" height="3.6" fill="#fff" stroke="#808a00" stroke-width="2.2" stroke-linejoin="round"/><rect x="143.76" y="361.78" width="3.6" height="3.6" fill="#fff" stroke="#808a00" stroke-width="2.2" stroke-linejoin="round"/><rect x="147.98" y="362.25" width="3.6" height="3.6" fill="#fff" stroke="#808a00" stroke-width="2.2" stroke-linejoin="round"/><rect x="152.17" y="363.15" width="3.6" height="3.6" fill="#fff" stroke="#808a00" stroke-width="2.2" stroke-linejoin="round"/><rect x="156.28" y="364.45" width="3.6" height="3.6" fill="#fff" stroke="#808a00" stroke-width="2.2" stroke-linejoin="round"/><rect x="160.36" y="366.13" width="3.6" height="3.6" fill="#fff" stroke="#808a00" stroke-width="2.2" stroke-linejoin="round"/><rect x="164.32" y="368.15" width="3.6" height="3.6" fill="#fff" stroke="#808a00" stroke-width="2.2" stroke-linejoin="round"/><rect x="168.15" y="370.49" width="3.6" height="3.6" fill="#fff" stroke="#808a00" stroke-width="2.2" stroke-linejoin="round"/><rect x="171.81" y="373.09" width="3.6" height="3.6" fill="#fff" stroke="#808a00" stroke-width="2.2" stroke-linejoin="round"/><rect x="175.38" y="376.02" width="3.6" height="3.6" fill="#fff" stroke="#808a00" stroke-width="2.2" stroke-linejoin="round"/><rect x="178.76" y="379.2" width="3.6" height="3.6" fill="#fff" stroke="#808a00" stroke-width="2.2" stroke-linejoin="round"/><rect x="181.96" y="382.64" width="3.6" height="3.6" fill="#fff" stroke="#808a00" stroke-width="2.2" stroke-linejoin="round"/><rect x="184.93" y="386.31" width="3.6" height="3.6" fill="#fff" stroke="#808a00" stroke-width="2.2" stroke-linejoin="round"/><rect x="187.68" y="390.24" width="3.6" height="3.6" fill="#fff" stroke="#808a00" stroke-width="2.2" stroke-linejoin="round"/><rect x="190.15" y="394.41" width="3.6" height="3.6" fill="#fff" stroke="#808a00" stroke-width="2.2" stroke-linejoin="round"/><rect x="192.32" y="398.83" width="3.6" height="3.6" fill="#fff" stroke="#808a00" stroke-width="2.2" stroke-linejoin="round"/><rect x="194.11" y="403.43" width="3.6" height="3.6" fill="#fff" stroke="#808a00" stroke-width="2.2" stroke-linejoin="round"/><rect x="195.47" y="408.27" width="3.6" height="3.6" fill="#fff" stroke="#808a00" stroke-width="2.2" stroke-linejoin="round"/><rect x="195.94" y="410.63" width="3.6" height="3.6" fill="#fff" stroke="#808a00" stroke-width="2.2" stroke-linejoin="round"/></g>
<text x="87.36" y="469" text-anchor="middle" font-size="15" >0</text>
<text x="156.82" y="469" text-anchor="middle" font-size="15" >20</text>
<text x="226.27" y="469" text-anchor="middle" font-size="15" >40</text>
<text x="64.5" y="441.4" text-anchor="end" font-size="15" >0</text>
<text x="64.5" y="372.4" text-anchor="end" font-size="15" >10</text>
<text x="64.5" y="303.4" text-anchor="end" font-size="15" >20</text>
<text x="140" y="491.5" font-size="14.5" word-spacing="0.6"><tspan font-style="italic">Z</tspan><tspan dy="4" font-size="10" font-style="italic">re</tspan><tspan dy="-4"> ( </tspan><tspan font-family="Liberation Serif">Ω</tspan> )</text>
<text transform="translate(30 357) rotate(-90)" text-anchor="middle" font-size="14.5" word-spacing="0.6">−<tspan font-style="italic">Z</tspan><tspan dy="4" font-size="10" font-style="italic">im</tspan><tspan dy="-4"> ( </tspan><tspan font-family="Liberation Serif">Ω</tspan> )</text>
<text x="24" y="275.6" text-anchor="start" font-size="15" >(b)</text>
<circle cx="85" cy="279.2" r="1.7" fill="#fff" stroke="#ff8000" stroke-width="2.0" stroke-linejoin="round"/><text x="98.6" y="282.8" text-anchor="start" font-size="12.2" >N,CuO@CuS</text>
<rect x="83.2" y="292.3" width="3.6" height="3.6" fill="#fff" stroke="#808a00" stroke-width="1.9" stroke-linejoin="round"/><text x="98.6" y="297.7" text-anchor="start" font-size="12.2" >After stability</text>
<path d="M343 265H534V451.3H343Z" fill="none" stroke="#000" stroke-width="1.5"/>
<path d="M378.81 451.3v-4.8M426.56 451.3v-4.8M474.31 451.3v-4.8M522.06 451.3v-4.8M354.94 451.3v-2.6M402.69 451.3v-2.6M450.44 451.3v-2.6M498.19 451.3v-2.6M343 447.82h4.8M343 413h4.8M343 378.17h4.8M343 343.35h4.8M343 308.53h4.8M343 273.71h4.8M343 430.41h2.6M343 395.58h2.6M343 360.76h2.6M343 325.94h2.6M343 291.12h2.6" stroke="#000" stroke-width="1.3" fill="none"/>
<g clip-path="url(#cc)"><polyline points="343,447.3 343.98,447.09 344.96,446.89 345.94,446.69 346.92,446.5 347.9,446.33 348.89,446.17 349.88,446.02 350.87,445.87 351.86,445.73 352.85,445.58 353.84,445.43 354.83,445.3 355.82,445.18 356.82,445.09 357.81,445.03 358.81,445 359.81,445.01 360.81,445.03 361.81,445.07 362.81,445.12 363.81,445.17 364.81,445.23 365.81,445.29 366.81,445.35 367.8,445.44 368.8,445.53 369.79,445.64 370.79,445.75 371.78,445.85 372.78,445.94 373.77,446.02 374.77,446.07 375.77,446.1 376.77,446.1 377.77,446.08 378.77,446.06 379.77,446.02 380.77,445.98 381.77,445.94 382.77,445.89 383.77,445.83 384.76,445.77 385.76,445.71 386.76,445.65 387.76,445.58 388.75,445.49 389.75,445.4 390.74,445.29 391.74,445.18 392.73,445.05 393.72,444.92 394.71,444.77 395.7,444.62 396.68,444.45 397.67,444.28 398.65,444.07 399.62,443.83 400.58,443.56 401.54,443.26 402.48,442.95 403.43,442.61 404.36,442.25 405.28,441.87 406.18,441.43 407.06,440.96 407.93,440.46 408.78,439.93 409.61,439.38 410.44,438.81 411.25,438.24 412.06,437.65 412.87,437.06 413.67,436.47 414.48,435.87 415.27,435.25 416.04,434.62 416.81,433.98 417.56,433.32 418.3,432.64 419.02,431.96 419.74,431.26 420.44,430.55 421.13,429.83 421.81,429.09 422.47,428.34 423.12,427.58 423.76,426.81 424.38,426.02 424.99,425.23 425.59,424.43 426.17,423.62 426.74,422.8 427.29,421.96 427.82,421.11 428.34,420.26 428.86,419.4 429.36,418.54 429.86,417.67 430.35,416.8 430.83,415.92 431.31,415.05 431.79,414.17 432.26,413.29 432.72,412.4 433.18,411.51 433.62,410.62 434.07,409.72 434.5,408.82 434.93,407.91 435.35,407.01 435.77,406.1 436.18,405.19 436.58,404.27 436.98,403.35 437.36,402.43 437.74,401.51 438.11,400.58 438.48,399.65 438.84,398.71 439.19,397.78 439.54,396.84 439.89,395.9 440.24,394.97 440.58,394.03 440.92,393.09 441.26,392.15 441.6,391.21 441.94,390.26 442.28,389.32 442.62,388.38 442.96,387.44 443.31,386.51 443.65,385.57 444,384.63 444.35,383.69 444.7,382.76 445.06,381.82 445.41,380.88 445.76,379.95 446.11,379.01 446.46,378.08 446.81,377.14 447.16,376.2 447.52,375.27 447.87,374.33 448.22,373.39 448.57,372.46 448.92,371.52 449.27,370.59 449.62,369.65 449.97,368.71 450.32,367.78 450.68,366.84 451.03,365.9 451.38,364.97 451.73,364.03 452.09,363.1 452.44,362.16 452.79,361.23 453.15,360.29 453.5,359.36 453.85,358.42 454.21,357.49 454.56,356.55 454.92,355.62 455.27,354.68 455.63,353.75 455.99,352.81 456.34,351.88 456.7,350.94 457.05,350.01 457.41,349.07 457.77,348.14 458.12,347.2 458.48,346.27 458.83,345.33 459.19,344.4 459.54,343.47 459.9,342.53 460.25,341.6 460.61,340.66 460.96,339.73 461.31,338.79 461.67,337.85 462.02,336.92 462.37,335.98 462.73,335.05 463.08,334.11 463.43,333.18 463.79,332.24 464.14,331.31 464.49,330.37 464.85,329.43 465.2,328.5 465.55,327.56 465.9,326.63 466.26,325.69 466.61,324.76 466.96,323.82 467.31,322.88 467.67,321.95 468.02,321.01 468.37,320.08 468.72,319.14 469.07,318.2 469.42,317.27 469.78,316.33 470.13,315.39 470.48,314.46 470.83,313.52 471.18,312.59 471.53,311.65 471.88,310.71 472.23,309.78 472.58,308.84 472.93,307.9 473.29,306.97 473.64,306.03 473.99,305.09 474.34,304.16 474.69,303.22 475.04,302.28 475.39,301.35 475.74,300.41 476.09,299.47 476.25,299.03" fill="none" stroke="#ff8000" stroke-width="5" stroke-linejoin="round" stroke-linecap="round"/><rect x="339.8" y="444.8" width="6.4" height="5.0" fill="#808a00"/><rect x="340.68" y="444.61" width="6.4" height="5.0" fill="#808a00"/><rect x="341.56" y="444.43" width="6.4" height="5.0" fill="#808a00"/><rect x="342.44" y="444.25" width="6.4" height="5.0" fill="#808a00"/><rect x="343.33" y="444.08" width="6.4" height="5.0" fill="#808a00"/><rect x="344.21" y="443.91" width="6.4" height="5.0" fill="#808a00"/><rect x="345.1" y="443.76" width="6.4" height="5.0" fill="#808a00"/><rect x="345.99" y="443.62" width="6.4" height="5.0" fill="#808a00"/><rect x="346.88" y="443.49" width="6.4" height="5.0" fill="#808a00"/><rect x="347.77" y="443.36" width="6.4" height="5.0" fill="#808a00"/><rect x="348.66" y="443.23" width="6.4" height="5.0" fill="#808a00"/><rect x="349.55" y="443.09" width="6.4" height="5.0" fill="#808a00"/><rect x="350.44" y="442.96" width="6.4" height="5.0" fill="#808a00"/><rect x="351.33" y="442.84" width="6.4" height="5.0" fill="#808a00"/><rect x="352.22" y="442.73" width="6.4" height="5.0" fill="#808a00"/><rect x="353.12" y="442.63" width="6.4" height="5.0" fill="#808a00"/><rect x="354.02" y="442.56" width="6.4" height="5.0" fill="#808a00"/><rect x="354.91" y="442.52" width="6.4" height="5.0" fill="#808a00"/><rect x="355.81" y="442.5" width="6.4" height="5.0" fill="#808a00"/><rect x="356.71" y="442.51" width="6.4" height="5.0" fill="#808a00"/><rect x="357.61" y="442.55" width="6.4" height="5.0" fill="#808a00"/><rect x="358.51" y="442.6" width="6.4" height="5.0" fill="#808a00"/><rect x="359.41" y="442.66" width="6.4" height="5.0" fill="#808a00"/><rect x="360.31" y="442.72" width="6.4" height="5.0" fill="#808a00"/><rect x="361.21" y="442.79" width="6.4" height="5.0" fill="#808a00"/><rect x="362.1" y="442.86" width="6.4" height="5.0" fill="#808a00"/><rect x="363" y="442.91" width="6.4" height="5.0" fill="#808a00"/><rect x="363.9" y="442.97" width="6.4" height="5.0" fill="#808a00"/><rect x="364.8" y="443.04" width="6.4" height="5.0" fill="#808a00"/><rect x="365.69" y="443.11" width="6.4" height="5.0" fill="#808a00"/><rect x="366.59" y="443.18" width="6.4" height="5.0" fill="#808a00"/><rect x="367.49" y="443.25" width="6.4" height="5.0" fill="#808a00"/><rect x="368.39" y="443.32" width="6.4" height="5.0" fill="#808a00"/><rect x="369.28" y="443.38" width="6.4" height="5.0" fill="#808a00"/><rect x="370.18" y="443.43" width="6.4" height="5.0" fill="#808a00"/><rect x="371.08" y="443.47" width="6.4" height="5.0" fill="#808a00"/><rect x="371.98" y="443.49" width="6.4" height="5.0" fill="#808a00"/><rect x="372.88" y="443.5" width="6.4" height="5.0" fill="#808a00"/><rect x="373.78" y="443.49" width="6.4" height="5.0" fill="#808a00"/><rect x="374.68" y="443.47" width="6.4" height="5.0" fill="#808a00"/><rect x="375.58" y="443.44" width="6.4" height="5.0" fill="#808a00"/><rect x="376.48" y="443.39" width="6.4" height="5.0" fill="#808a00"/><rect x="377.38" y="443.34" width="6.4" height="5.0" fill="#808a00"/><rect x="378.28" y="443.28" width="6.4" height="5.0" fill="#808a00"/><rect x="379.17" y="443.21" width="6.4" height="5.0" fill="#808a00"/><rect x="380.07" y="443.14" width="6.4" height="5.0" fill="#808a00"/><rect x="380.97" y="443.06" width="6.4" height="5.0" fill="#808a00"/><rect x="381.86" y="442.98" width="6.4" height="5.0" fill="#808a00"/><rect x="382.76" y="442.9" width="6.4" height="5.0" fill="#808a00"/><rect x="383.66" y="442.82" width="6.4" height="5.0" fill="#808a00"/><rect x="384.55" y="442.72" width="6.4" height="5.0" fill="#808a00"/><rect x="385.44" y="442.61" width="6.4" height="5.0" fill="#808a00"/><rect x="386.34" y="442.49" width="6.4" height="5.0" fill="#808a00"/><rect x="387.23" y="442.36" width="6.4" height="5.0" fill="#808a00"/><rect x="388.11" y="442.22" width="6.4" height="5.0" fill="#808a00"/><rect x="389" y="442.06" width="6.4" height="5.0" fill="#808a00"/><rect x="389.89" y="441.9" width="6.4" height="5.0" fill="#808a00"/><rect x="390.77" y="441.73" width="6.4" height="5.0" fill="#808a00"/><rect x="391.65" y="441.56" width="6.4" height="5.0" fill="#808a00"/><rect x="392.53" y="441.37" width="6.4" height="5.0" fill="#808a00"/><rect x="393.41" y="441.18" width="6.4" height="5.0" fill="#808a00"/><rect x="394.29" y="440.99" width="6.4" height="5.0" fill="#808a00"/><rect x="395.17" y="440.78" width="6.4" height="5.0" fill="#808a00"/><rect x="396.04" y="440.54" width="6.4" height="5.0" fill="#808a00"/><rect x="396.9" y="440.3" width="6.4" height="5.0" fill="#808a00"/><rect x="397.76" y="440.03" width="6.4" height="5.0" fill="#808a00"/><rect x="398.61" y="439.74" width="6.4" height="5.0" fill="#808a00"/><rect x="399.46" y="439.44" width="6.4" height="5.0" fill="#808a00"/><rect x="400.3" y="439.11" width="6.4" height="5.0" fill="#808a00"/><rect x="401.13" y="438.77" width="6.4" height="5.0" fill="#808a00"/><rect x="401.95" y="438.4" width="6.4" height="5.0" fill="#808a00"/><rect x="402.75" y="437.99" width="6.4" height="5.0" fill="#808a00"/><rect x="403.54" y="437.55" width="6.4" height="5.0" fill="#808a00"/><rect x="404.3" y="437.07" width="6.4" height="5.0" fill="#808a00"/><rect x="405.05" y="436.58" width="6.4" height="5.0" fill="#808a00"/><rect x="405.79" y="436.06" width="6.4" height="5.0" fill="#808a00"/><rect x="406.52" y="435.54" width="6.4" height="5.0" fill="#808a00"/><rect x="407.24" y="435" width="6.4" height="5.0" fill="#808a00"/><rect x="407.96" y="434.45" width="6.4" height="5.0" fill="#808a00"/><rect x="408.67" y="433.9" width="6.4" height="5.0" fill="#808a00"/><rect x="409.38" y="433.34" width="6.4" height="5.0" fill="#808a00"/><rect x="410.08" y="432.78" width="6.4" height="5.0" fill="#808a00"/><rect x="410.79" y="432.23" width="6.4" height="5.0" fill="#808a00"/><rect x="411.49" y="431.67" width="6.4" height="5.0" fill="#808a00"/><rect x="412.19" y="431.1" width="6.4" height="5.0" fill="#808a00"/><rect x="412.88" y="430.51" width="6.4" height="5.0" fill="#808a00"/><rect x="413.55" y="429.92" width="6.4" height="5.0" fill="#808a00"/><rect x="414.22" y="429.32" width="6.4" height="5.0" fill="#808a00"/><rect x="414.88" y="428.71" width="6.4" height="5.0" fill="#808a00"/><rect x="415.53" y="428.08" width="6.4" height="5.0" fill="#808a00"/><rect x="416.17" y="427.45" width="6.4" height="5.0" fill="#808a00"/><rect x="416.8" y="426.8" width="6.4" height="5.0" fill="#808a00"/><rect x="417.41" y="426.15" width="6.4" height="5.0" fill="#808a00"/><rect x="418.02" y="425.48" width="6.4" height="5.0" fill="#808a00"/><rect x="418.61" y="424.8" width="6.4" height="5.0" fill="#808a00"/><rect x="419.19" y="424.12" width="6.4" height="5.0" fill="#808a00"/><rect x="419.76" y="423.42" width="6.4" height="5.0" fill="#808a00"/><rect x="420.32" y="422.72" width="6.4" height="5.0" fill="#808a00"/><rect x="420.87" y="422.01" width="6.4" height="5.0" fill="#808a00"/><rect x="421.41" y="421.29" width="6.4" height="5.0" fill="#808a00"/><rect x="421.95" y="420.56" width="6.4" height="5.0" fill="#808a00"/><rect x="422.47" y="419.83" width="6.4" height="5.0" fill="#808a00"/><rect x="422.98" y="419.09" width="6.4" height="5.0" fill="#808a00"/><rect x="423.48" y="418.34" width="6.4" height="5.0" fill="#808a00"/><rect x="423.97" y="417.58" width="6.4" height="5.0" fill="#808a00"/><rect x="424.45" y="416.82" width="6.4" height="5.0" fill="#808a00"/><rect x="424.92" y="416.05" width="6.4" height="5.0" fill="#808a00"/><rect x="425.38" y="415.28" width="6.4" height="5.0" fill="#808a00"/><rect x="425.83" y="414.5" width="6.4" height="5.0" fill="#808a00"/><rect x="426.27" y="413.72" width="6.4" height="5.0" fill="#808a00"/><rect x="426.71" y="412.93" width="6.4" height="5.0" fill="#808a00"/><rect x="427.15" y="412.14" width="6.4" height="5.0" fill="#808a00"/><rect x="427.58" y="411.35" width="6.4" height="5.0" fill="#808a00"/><rect x="428" y="410.56" width="6.4" height="5.0" fill="#808a00"/><rect x="428.42" y="409.77" width="6.4" height="5.0" fill="#808a00"/><rect x="428.84" y="408.97" width="6.4" height="5.0" fill="#808a00"/><rect x="429.24" y="408.16" width="6.4" height="5.0" fill="#808a00"/><rect x="429.64" y="407.35" width="6.4" height="5.0" fill="#808a00"/><rect x="430.03" y="406.54" width="6.4" height="5.0" fill="#808a00"/><rect x="430.41" y="405.73" width="6.4" height="5.0" fill="#808a00"/><rect x="430.79" y="404.91" width="6.4" height="5.0" fill="#808a00"/><rect x="431.17" y="404.1" width="6.4" height="5.0" fill="#808a00"/><rect x="431.55" y="403.28" width="6.4" height="5.0" fill="#808a00"/><rect x="431.92" y="402.46" width="6.4" height="5.0" fill="#808a00"/><rect x="432.29" y="401.64" width="6.4" height="5.0" fill="#808a00"/><rect x="432.67" y="400.82" width="6.4" height="5.0" fill="#808a00"/><rect x="433.04" y="400" width="6.4" height="5.0" fill="#808a00"/><rect x="433.42" y="399.19" width="6.4" height="5.0" fill="#808a00"/><rect x="433.79" y="398.37" width="6.4" height="5.0" fill="#808a00"/><rect x="434.16" y="397.55" width="6.4" height="5.0" fill="#808a00"/><rect x="434.54" y="396.73" width="6.4" height="5.0" fill="#808a00"/><rect x="434.91" y="395.91" width="6.4" height="5.0" fill="#808a00"/><rect x="435.28" y="395.09" width="6.4" height="5.0" fill="#808a00"/><rect x="435.65" y="394.27" width="6.4" height="5.0" fill="#808a00"/><rect x="436.01" y="393.45" width="6.4" height="5.0" fill="#808a00"/><rect x="436.38" y="392.62" width="6.4" height="5.0" fill="#808a00"/><rect x="436.75" y="391.8" width="6.4" height="5.0" fill="#808a00"/><rect x="437.11" y="390.98" width="6.4" height="5.0" fill="#808a00"/><rect x="437.48" y="390.16" width="6.4" height="5.0" fill="#808a00"/><rect x="437.84" y="389.33" width="6.4" height="5.0" fill="#808a00"/><rect x="438.2" y="388.51" width="6.4" height="5.0" fill="#808a00"/><rect x="438.57" y="387.69" width="6.4" height="5.0" fill="#808a00"/><rect x="438.93" y="386.86" width="6.4" height="5.0" fill="#808a00"/><rect x="439.29" y="386.04" width="6.4" height="5.0" fill="#808a00"/><rect x="439.65" y="385.22" width="6.4" height="5.0" fill="#808a00"/><rect x="440.02" y="384.39" width="6.4" height="5.0" fill="#808a00"/><rect x="440.38" y="383.57" width="6.4" height="5.0" fill="#808a00"/><rect x="440.74" y="382.74" width="6.4" height="5.0" fill="#808a00"/><rect x="441.11" y="381.92" width="6.4" height="5.0" fill="#808a00"/><rect x="441.47" y="381.1" width="6.4" height="5.0" fill="#808a00"/><rect x="441.83" y="380.27" width="6.4" height="5.0" fill="#808a00"/><rect x="442.2" y="379.45" width="6.4" height="5.0" fill="#808a00"/><rect x="442.56" y="378.63" width="6.4" height="5.0" fill="#808a00"/><rect x="442.93" y="377.81" width="6.4" height="5.0" fill="#808a00"/><rect x="443.3" y="376.99" width="6.4" height="5.0" fill="#808a00"/><rect x="443.66" y="376.16" width="6.4" height="5.0" fill="#808a00"/><rect x="444.03" y="375.34" width="6.4" height="5.0" fill="#808a00"/><rect x="444.4" y="374.52" width="6.4" height="5.0" fill="#808a00"/><rect x="444.77" y="373.7" width="6.4" height="5.0" fill="#808a00"/><rect x="445.13" y="372.88" width="6.4" height="5.0" fill="#808a00"/><rect x="445.5" y="372.06" width="6.4" height="5.0" fill="#808a00"/><rect x="445.87" y="371.23" width="6.4" height="5.0" fill="#808a00"/><rect x="446.24" y="370.41" width="6.4" height="5.0" fill="#808a00"/><rect x="446.61" y="369.59" width="6.4" height="5.0" fill="#808a00"/><rect x="446.97" y="368.77" width="6.4" height="5.0" fill="#808a00"/><rect x="447.34" y="367.95" width="6.4" height="5.0" fill="#808a00"/><rect x="447.71" y="367.13" width="6.4" height="5.0" fill="#808a00"/><rect x="448.08" y="366.31" width="6.4" height="5.0" fill="#808a00"/><rect x="448.44" y="365.48" width="6.4" height="5.0" fill="#808a00"/><rect x="448.81" y="364.66" width="6.4" height="5.0" fill="#808a00"/><rect x="449.18" y="363.84" width="6.4" height="5.0" fill="#808a00"/><rect x="449.55" y="363.02" width="6.4" height="5.0" fill="#808a00"/><rect x="449.91" y="362.2" width="6.4" height="5.0" fill="#808a00"/><rect x="450.28" y="361.38" width="6.4" height="5.0" fill="#808a00"/><rect x="450.65" y="360.56" width="6.4" height="5.0" fill="#808a00"/><rect x="451.02" y="359.73" width="6.4" height="5.0" fill="#808a00"/><rect x="451.38" y="358.91" width="6.4" height="5.0" fill="#808a00"/><rect x="451.75" y="358.09" width="6.4" height="5.0" fill="#808a00"/><rect x="452.11" y="357.27" width="6.4" height="5.0" fill="#808a00"/><rect x="452.48" y="356.44" width="6.4" height="5.0" fill="#808a00"/><rect x="452.85" y="355.62" width="6.4" height="5.0" fill="#808a00"/><rect x="453.21" y="354.8" width="6.4" height="5.0" fill="#808a00"/><rect x="453.58" y="353.98" width="6.4" height="5.0" fill="#808a00"/><rect x="453.94" y="353.15" width="6.4" height="5.0" fill="#808a00"/><rect x="454.3" y="352.33" width="6.4" height="5.0" fill="#808a00"/><rect x="454.67" y="351.51" width="6.4" height="5.0" fill="#808a00"/><rect x="455.03" y="350.68" width="6.4" height="5.0" fill="#808a00"/><rect x="455.4" y="349.86" width="6.4" height="5.0" fill="#808a00"/><rect x="455.76" y="349.04" width="6.4" height="5.0" fill="#808a00"/><rect x="456.12" y="348.22" width="6.4" height="5.0" fill="#808a00"/><rect x="456.49" y="347.39" width="6.4" height="5.0" fill="#808a00"/><rect x="456.85" y="346.57" width="6.4" height="5.0" fill="#808a00"/><rect x="457.21" y="345.75" width="6.4" height="5.0" fill="#808a00"/><rect x="457.58" y="344.92" width="6.4" height="5.0" fill="#808a00"/><rect x="457.94" y="344.1" width="6.4" height="5.0" fill="#808a00"/><rect x="458.3" y="343.28" width="6.4" height="5.0" fill="#808a00"/><rect x="458.67" y="342.45" width="6.4" height="5.0" fill="#808a00"/><rect x="459.03" y="341.63" width="6.4" height="5.0" fill="#808a00"/><rect x="459.39" y="340.81" width="6.4" height="5.0" fill="#808a00"/><rect x="459.76" y="339.98" width="6.4" height="5.0" fill="#808a00"/><rect x="460.12" y="339.16" width="6.4" height="5.0" fill="#808a00"/><rect x="460.49" y="338.34" width="6.4" height="5.0" fill="#808a00"/><rect x="460.85" y="337.51" width="6.4" height="5.0" fill="#808a00"/><rect x="461.22" y="336.69" width="6.4" height="5.0" fill="#808a00"/><rect x="461.58" y="335.87" width="6.4" height="5.0" fill="#808a00"/><rect x="461.95" y="335.04" width="6.4" height="5.0" fill="#808a00"/><rect x="462.31" y="334.22" width="6.4" height="5.0" fill="#808a00"/><rect x="462.68" y="333.4" width="6.4" height="5.0" fill="#808a00"/><rect x="463.04" y="332.58" width="6.4" height="5.0" fill="#808a00"/><rect x="463.41" y="331.76" width="6.4" height="5.0" fill="#808a00"/><rect x="463.78" y="330.93" width="6.4" height="5.0" fill="#808a00"/><rect x="464.14" y="330.11" width="6.4" height="5.0" fill="#808a00"/><rect x="464.51" y="329.29" width="6.4" height="5.0" fill="#808a00"/><rect x="464.88" y="328.47" width="6.4" height="5.0" fill="#808a00"/><rect x="465.24" y="327.65" width="6.4" height="5.0" fill="#808a00"/><rect x="465.61" y="326.82" width="6.4" height="5.0" fill="#808a00"/><rect x="465.98" y="326" width="6.4" height="5.0" fill="#808a00"/><rect x="466.35" y="325.18" width="6.4" height="5.0" fill="#808a00"/><rect x="466.71" y="324.36" width="6.4" height="5.0" fill="#808a00"/><rect x="467.08" y="323.54" width="6.4" height="5.0" fill="#808a00"/><rect x="467.45" y="322.72" width="6.4" height="5.0" fill="#808a00"/><rect x="467.82" y="321.9" width="6.4" height="5.0" fill="#808a00"/><rect x="468.19" y="321.08" width="6.4" height="5.0" fill="#808a00"/><rect x="468.55" y="320.25" width="6.4" height="5.0" fill="#808a00"/><rect x="468.92" y="319.43" width="6.4" height="5.0" fill="#808a00"/><rect x="469.29" y="318.61" width="6.4" height="5.0" fill="#808a00"/><rect x="469.66" y="317.79" width="6.4" height="5.0" fill="#808a00"/><rect x="470.03" y="316.97" width="6.4" height="5.0" fill="#808a00"/><rect x="470.4" y="316.15" width="6.4" height="5.0" fill="#808a00"/><rect x="470.77" y="315.33" width="6.4" height="5.0" fill="#808a00"/><rect x="471.14" y="314.51" width="6.4" height="5.0" fill="#808a00"/><rect x="471.51" y="313.69" width="6.4" height="5.0" fill="#808a00"/><rect x="471.88" y="312.87" width="6.4" height="5.0" fill="#808a00"/><rect x="472.25" y="312.05" width="6.4" height="5.0" fill="#808a00"/><rect x="472.62" y="311.23" width="6.4" height="5.0" fill="#808a00"/><rect x="472.99" y="310.41" width="6.4" height="5.0" fill="#808a00"/><rect x="473.36" y="309.59" width="6.4" height="5.0" fill="#808a00"/><rect x="473.73" y="308.77" width="6.4" height="5.0" fill="#808a00"/><rect x="474.1" y="307.95" width="6.4" height="5.0" fill="#808a00"/><rect x="474.3" y="307.5" width="6.4" height="5.0" fill="#808a00"/><circle cx="476.3" cy="298.9" r="1.5" fill="#fff" stroke="#ff8000" stroke-width="2.2" stroke-linejoin="round"/><rect x="475.7" y="308.2" width="3.6" height="3.6" fill="#fff" stroke="#808a00" stroke-width="2.4" stroke-linejoin="round"/></g>
<text x="378.81" y="469" text-anchor="middle" font-size="15" >1.4</text>
<text x="426.56" y="469" text-anchor="middle" font-size="15" >1.6</text>
<text x="474.31" y="469" text-anchor="middle" font-size="15" >1.8</text>
<text x="522.06" y="469" text-anchor="middle" font-size="15" >2.0</text>
<text x="337.5" y="452.22" text-anchor="end" font-size="15" >0</text>
<text x="337.5" y="417.4" text-anchor="end" font-size="15" >100</text>
<text x="337.5" y="382.57" text-anchor="end" font-size="15" >200</text>
<text x="337.5" y="347.75" text-anchor="end" font-size="15" >300</text>
<text x="337.5" y="312.93" text-anchor="end" font-size="15" >400</text>
<text x="337.5" y="278.11" text-anchor="end" font-size="15" >500</text>
<text x="439" y="493.8" text-anchor="middle" font-size="14.5" word-spacing="0.6"><tspan font-style="italic">V</tspan> ( V vs RHE )</text>
<text transform="translate(299.4 358) rotate(-90)" text-anchor="middle" font-size="14.5" word-spacing="0.6"><tspan font-style="italic">J</tspan> ( mA cm<tspan dy="-6" font-size="10.5">−2</tspan><tspan dy="6"> )</tspan></text>
<text x="289.6" y="282.6" text-anchor="start" font-size="15" >(c)</text>
<path d="M351.5 279.8H373.4" stroke="#ff8000" stroke-width="1.5"/><circle cx="362.5" cy="279.8" r="1.75" fill="#fff" stroke="#ff8000" stroke-width="2.0" stroke-linejoin="round"/><text x="376.6" y="283.5" text-anchor="start" font-size="12.2" >N,CuO@CuS</text>
<path d="M351.5 295H373.4" stroke="#808a00" stroke-width="1.5"/><rect x="360.8" y="293.3" width="3.4" height="3.4" fill="#fff" stroke="#808a00" stroke-width="1.8" stroke-linejoin="round"/><text x="376.6" y="298.3" text-anchor="start" font-size="12.2" >After stability</text>
</svg></body></html>
